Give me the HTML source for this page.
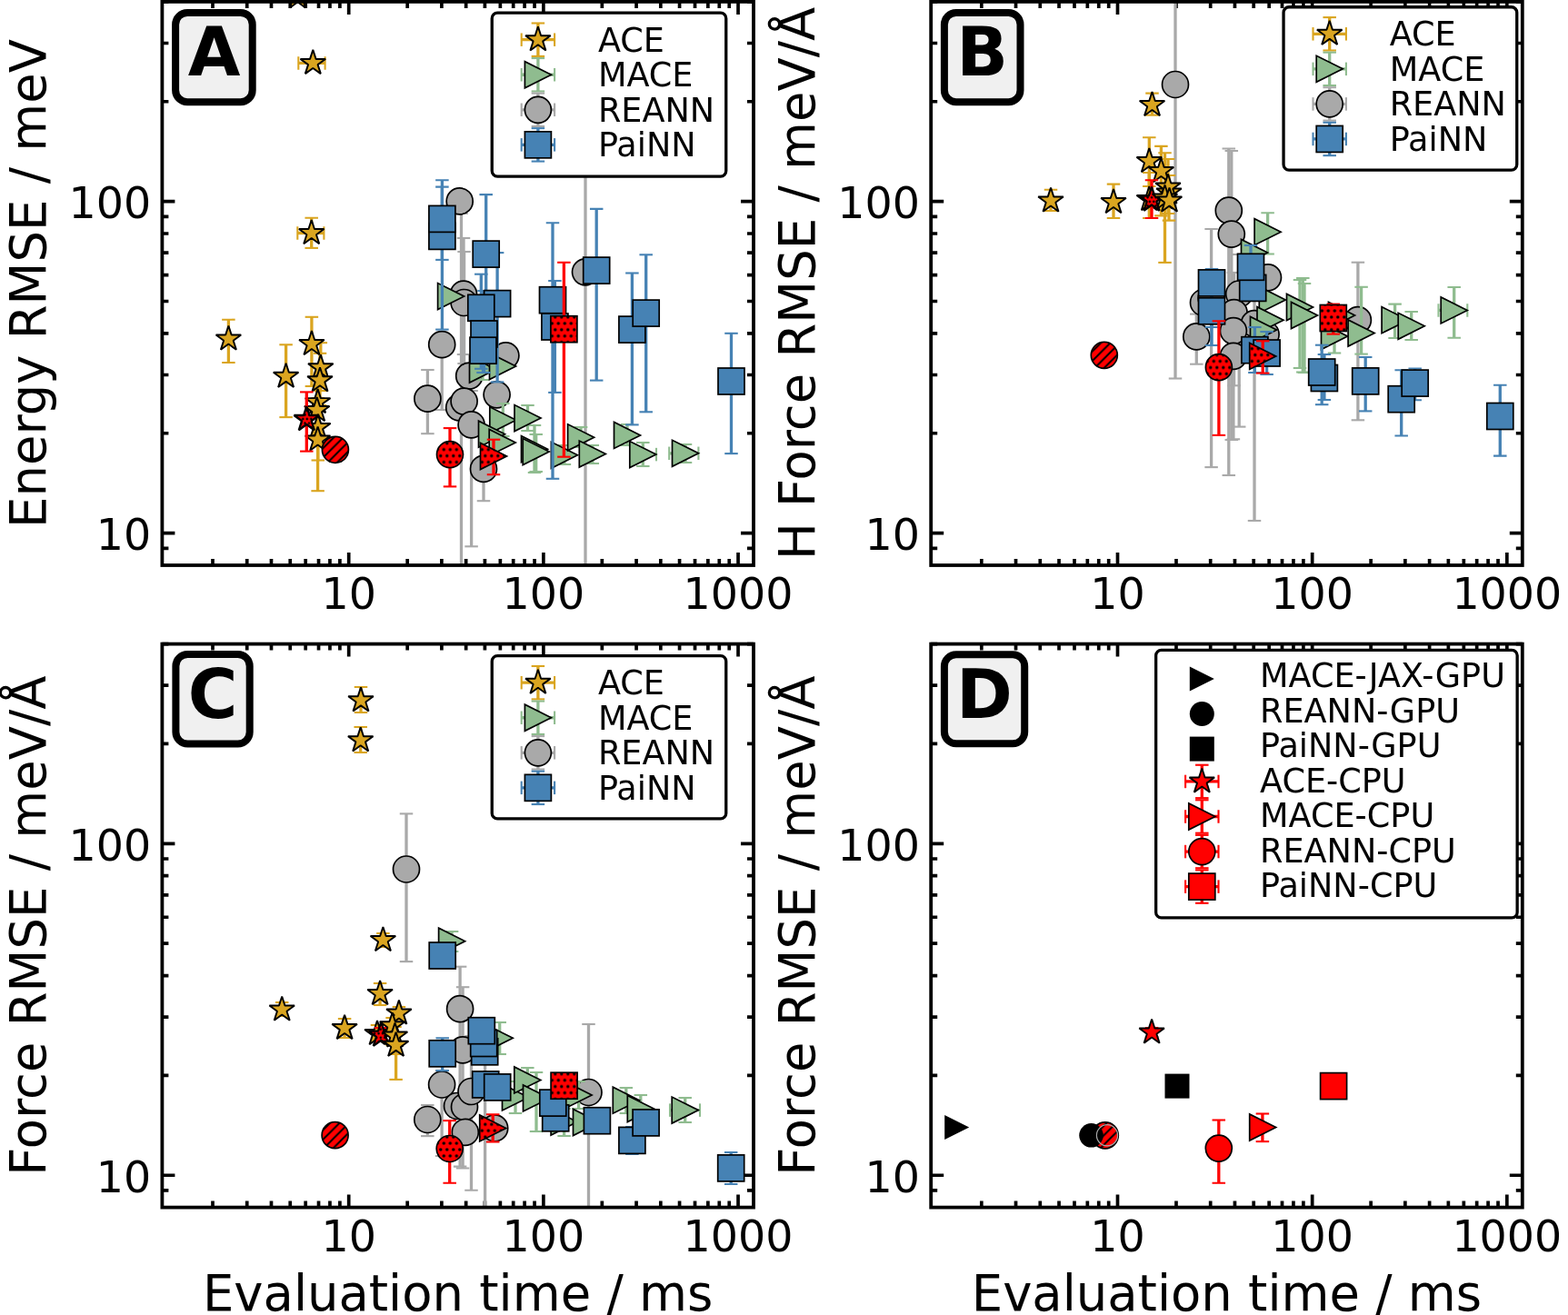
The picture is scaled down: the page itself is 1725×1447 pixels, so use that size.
<!DOCTYPE html>
<html><head><meta charset="utf-8"><title>Evaluation time vs RMSE</title>
<style>html,body{margin:0;padding:0;background:#fff;}svg{display:block;}text{font-family:'DejaVu Sans', 'Liberation Sans', sans-serif;fill:#000;}</style>
</head><body>
<svg width="1725" height="1447" viewBox="0 0 1725 1447">
<defs>
<pattern id="dots" patternUnits="userSpaceOnUse" x="5.3" y="8.86" width="7" height="13.88"><circle cx="0" cy="0" r="1.75" fill="#000"/><circle cx="7" cy="0" r="1.75" fill="#000"/><circle cx="0" cy="13.88" r="1.75" fill="#000"/><circle cx="7" cy="13.88" r="1.75" fill="#000"/><circle cx="3.5" cy="6.94" r="1.75" fill="#000"/></pattern>
<pattern id="dots2" patternUnits="userSpaceOnUse" x="0.3" y="1.1" width="4.5" height="9.2"><circle cx="0" cy="0" r="1.3" fill="#000"/><circle cx="4.5" cy="0" r="1.3" fill="#000"/><circle cx="0" cy="9.2" r="1.3" fill="#000"/><circle cx="4.5" cy="9.2" r="1.3" fill="#000"/><circle cx="2.25" cy="4.6" r="1.3" fill="#000"/></pattern>
<pattern id="diag" patternUnits="userSpaceOnUse" x="0" y="4.56" width="10.42" height="10.42"><path d="M-2.6 2.6L2.6 -2.6M0 10.42L10.42 0M7.82 13.02L13.02 7.82" stroke="#000" stroke-width="2"/></pattern>
<clipPath id="clipA"><rect x="178.4" y="1.9" width="650.6" height="620.1"/></clipPath>
<clipPath id="clipB"><rect x="1024.2" y="1.9" width="650.6" height="620.1"/></clipPath>
<clipPath id="clipC"><rect x="178.4" y="708.6" width="650.6" height="620"/></clipPath>
<clipPath id="clipD"><rect x="1024.2" y="708.6" width="650.6" height="620"/></clipPath>
</defs>
<rect x="0" y="0" width="1725" height="1447" fill="#fff"/>
<path d="M383.7 622L383.7 608 M383.7 1.9L383.7 15.9 M597.87 622L597.87 608 M597.87 1.9L597.87 15.9 M812.04 622L812.04 608 M812.04 1.9L812.04 15.9 M234.01 622L234.01 615 M234.01 1.9L234.01 8.9 M271.72 622L271.72 615 M271.72 1.9L271.72 8.9 M298.48 622L298.48 615 M298.48 1.9L298.48 8.9 M319.23 622L319.23 615 M319.23 1.9L319.23 8.9 M336.19 622L336.19 615 M336.19 1.9L336.19 8.9 M350.53 622L350.53 615 M350.53 1.9L350.53 8.9 M362.95 622L362.95 615 M362.95 1.9L362.95 8.9 M373.9 622L373.9 615 M373.9 1.9L373.9 8.9 M448.18 622L448.18 615 M448.18 1.9L448.18 8.9 M485.89 622L485.89 615 M485.89 1.9L485.89 8.9 M512.65 622L512.65 615 M512.65 1.9L512.65 8.9 M533.4 622L533.4 615 M533.4 1.9L533.4 8.9 M550.36 622L550.36 615 M550.36 1.9L550.36 8.9 M564.7 622L564.7 615 M564.7 1.9L564.7 8.9 M577.12 622L577.12 615 M577.12 1.9L577.12 8.9 M588.07 622L588.07 615 M588.07 1.9L588.07 8.9 M662.34 622L662.34 615 M662.34 1.9L662.34 8.9 M700.06 622L700.06 615 M700.06 1.9L700.06 8.9 M726.82 622L726.82 615 M726.82 1.9L726.82 8.9 M747.57 622L747.57 615 M747.57 1.9L747.57 8.9 M764.53 622L764.53 615 M764.53 1.9L764.53 8.9 M778.87 622L778.87 615 M778.87 1.9L778.87 8.9 M791.29 622L791.29 615 M791.29 1.9L791.29 8.9 M802.24 622L802.24 615 M802.24 1.9L802.24 8.9 M178.4 586.63L192.4 586.63 M829 586.63L815 586.63 M178.4 221.64L192.4 221.64 M829 221.64L815 221.64 M178.4 603.33L185.4 603.33 M829 603.33L822 603.33 M178.4 476.76L185.4 476.76 M829 476.76L822 476.76 M178.4 412.49L185.4 412.49 M829 412.49L822 412.49 M178.4 366.89L185.4 366.89 M829 366.89L822 366.89 M178.4 331.52L185.4 331.52 M829 331.52L822 331.52 M178.4 302.62L185.4 302.62 M829 302.62L822 302.62 M178.4 278.18L185.4 278.18 M829 278.18L822 278.18 M178.4 257.01L185.4 257.01 M829 257.01L822 257.01 M178.4 238.34L185.4 238.34 M829 238.34L822 238.34 M178.4 111.77L185.4 111.77 M829 111.77L822 111.77 M178.4 47.5L185.4 47.5 M829 47.5L822 47.5 M178.4 1.9L185.4 1.9 M829 1.9L822 1.9" stroke="#000" stroke-width="3.7" fill="none"/>
<g clip-path="url(#clipA)">
<line x1="507.5" y1="235" x2="507.5" y2="640" stroke="#A9A9A9" stroke-width="3.3"/>
<line x1="500.25" y1="235" x2="514.75" y2="235" stroke="#A9A9A9" stroke-width="2.1"/>
<line x1="500.25" y1="640" x2="514.75" y2="640" stroke="#A9A9A9" stroke-width="2.1"/>
<line x1="644" y1="100" x2="644" y2="640" stroke="#A9A9A9" stroke-width="3.3"/>
<line x1="636.75" y1="100" x2="651.25" y2="100" stroke="#A9A9A9" stroke-width="2.1"/>
<line x1="636.75" y1="640" x2="651.25" y2="640" stroke="#A9A9A9" stroke-width="2.1"/>
<line x1="510" y1="262" x2="510" y2="390" stroke="#A9A9A9" stroke-width="3.3"/>
<line x1="502.75" y1="262" x2="517.25" y2="262" stroke="#A9A9A9" stroke-width="2.1"/>
<line x1="502.75" y1="390" x2="517.25" y2="390" stroke="#A9A9A9" stroke-width="2.1"/>
<line x1="510.6" y1="277" x2="510.6" y2="400" stroke="#A9A9A9" stroke-width="3.3"/>
<line x1="503.35" y1="277" x2="517.85" y2="277" stroke="#A9A9A9" stroke-width="2.1"/>
<line x1="503.35" y1="400" x2="517.85" y2="400" stroke="#A9A9A9" stroke-width="2.1"/>
<line x1="486.2" y1="379.2" x2="486.2" y2="451" stroke="#A9A9A9" stroke-width="3.3"/>
<line x1="478.95" y1="379.2" x2="493.45" y2="379.2" stroke="#A9A9A9" stroke-width="2.1"/>
<line x1="478.95" y1="451" x2="493.45" y2="451" stroke="#A9A9A9" stroke-width="2.1"/>
<line x1="470.4" y1="407" x2="470.4" y2="477.2" stroke="#A9A9A9" stroke-width="3.3"/>
<line x1="463.15" y1="407" x2="477.65" y2="407" stroke="#A9A9A9" stroke-width="2.1"/>
<line x1="463.15" y1="477.2" x2="477.65" y2="477.2" stroke="#A9A9A9" stroke-width="2.1"/>
<line x1="518.6" y1="430" x2="518.6" y2="601.3" stroke="#A9A9A9" stroke-width="3.3"/>
<line x1="511.35" y1="430" x2="525.85" y2="430" stroke="#A9A9A9" stroke-width="2.1"/>
<line x1="511.35" y1="601.3" x2="525.85" y2="601.3" stroke="#A9A9A9" stroke-width="2.1"/>
<line x1="532" y1="480" x2="532" y2="551.2" stroke="#A9A9A9" stroke-width="3.3"/>
<line x1="524.75" y1="480" x2="539.25" y2="480" stroke="#A9A9A9" stroke-width="2.1"/>
<line x1="524.75" y1="551.2" x2="539.25" y2="551.2" stroke="#A9A9A9" stroke-width="2.1"/>
<circle cx="505.7" cy="221.4" r="14.5" fill="#A9A9A9" stroke="#000" stroke-width="1.7"/>
<circle cx="644" cy="299.3" r="14.5" fill="#A9A9A9" stroke="#000" stroke-width="1.7"/>
<circle cx="510" cy="323.7" r="14.5" fill="#A9A9A9" stroke="#000" stroke-width="1.7"/>
<circle cx="510.6" cy="333" r="14.5" fill="#A9A9A9" stroke="#000" stroke-width="1.7"/>
<circle cx="486.2" cy="379.2" r="14.5" fill="#A9A9A9" stroke="#000" stroke-width="1.7"/>
<circle cx="556.4" cy="391.3" r="14.5" fill="#A9A9A9" stroke="#000" stroke-width="1.7"/>
<circle cx="516.2" cy="413.7" r="14.5" fill="#A9A9A9" stroke="#000" stroke-width="1.7"/>
<circle cx="546.6" cy="434.3" r="14.5" fill="#A9A9A9" stroke="#000" stroke-width="1.7"/>
<circle cx="470.4" cy="438.7" r="14.5" fill="#A9A9A9" stroke="#000" stroke-width="1.7"/>
<circle cx="505.2" cy="448.4" r="14.5" fill="#A9A9A9" stroke="#000" stroke-width="1.7"/>
<circle cx="510.6" cy="441.6" r="14.5" fill="#A9A9A9" stroke="#000" stroke-width="1.7"/>
<circle cx="518.6" cy="467.4" r="14.5" fill="#A9A9A9" stroke="#000" stroke-width="1.7"/>
<circle cx="532" cy="515.9" r="14.5" fill="#A9A9A9" stroke="#000" stroke-width="1.7"/>
<line x1="531" y1="396" x2="531" y2="418" stroke="#8FBC8F" stroke-width="3.3"/>
<line x1="523.75" y1="396" x2="538.25" y2="396" stroke="#8FBC8F" stroke-width="2.1"/>
<line x1="523.75" y1="418" x2="538.25" y2="418" stroke="#8FBC8F" stroke-width="2.1"/>
<line x1="553.3" y1="444" x2="553.3" y2="480" stroke="#8FBC8F" stroke-width="3.3"/>
<line x1="546.05" y1="444" x2="560.55" y2="444" stroke="#8FBC8F" stroke-width="2.1"/>
<line x1="546.05" y1="480" x2="560.55" y2="480" stroke="#8FBC8F" stroke-width="2.1"/>
<line x1="580.5" y1="446" x2="580.5" y2="474" stroke="#8FBC8F" stroke-width="3.3"/>
<line x1="573.25" y1="446" x2="587.75" y2="446" stroke="#8FBC8F" stroke-width="2.1"/>
<line x1="573.25" y1="474" x2="587.75" y2="474" stroke="#8FBC8F" stroke-width="2.1"/>
<line x1="588" y1="468" x2="588" y2="520" stroke="#8FBC8F" stroke-width="3.3"/>
<line x1="580.75" y1="468" x2="595.25" y2="468" stroke="#8FBC8F" stroke-width="2.1"/>
<line x1="580.75" y1="520" x2="595.25" y2="520" stroke="#8FBC8F" stroke-width="2.1"/>
<line x1="589.7" y1="478" x2="589.7" y2="519" stroke="#8FBC8F" stroke-width="3.3"/>
<line x1="582.45" y1="478" x2="596.95" y2="478" stroke="#8FBC8F" stroke-width="2.1"/>
<line x1="582.45" y1="519" x2="596.95" y2="519" stroke="#8FBC8F" stroke-width="2.1"/>
<line x1="620.9" y1="490" x2="620.9" y2="511" stroke="#8FBC8F" stroke-width="3.3"/>
<line x1="613.65" y1="490" x2="628.15" y2="490" stroke="#8FBC8F" stroke-width="2.1"/>
<line x1="613.65" y1="511" x2="628.15" y2="511" stroke="#8FBC8F" stroke-width="2.1"/>
<line x1="639.1" y1="470" x2="639.1" y2="492" stroke="#8FBC8F" stroke-width="3.3"/>
<line x1="631.85" y1="470" x2="646.35" y2="470" stroke="#8FBC8F" stroke-width="2.1"/>
<line x1="631.85" y1="492" x2="646.35" y2="492" stroke="#8FBC8F" stroke-width="2.1"/>
<line x1="651.8" y1="490" x2="651.8" y2="510" stroke="#8FBC8F" stroke-width="3.3"/>
<line x1="644.55" y1="490" x2="659.05" y2="490" stroke="#8FBC8F" stroke-width="2.1"/>
<line x1="644.55" y1="510" x2="659.05" y2="510" stroke="#8FBC8F" stroke-width="2.1"/>
<line x1="690" y1="467" x2="690" y2="490" stroke="#8FBC8F" stroke-width="3.3"/>
<line x1="682.75" y1="467" x2="697.25" y2="467" stroke="#8FBC8F" stroke-width="2.1"/>
<line x1="682.75" y1="490" x2="697.25" y2="490" stroke="#8FBC8F" stroke-width="2.1"/>
<line x1="707.3" y1="487" x2="707.3" y2="513" stroke="#8FBC8F" stroke-width="3.3"/>
<line x1="700.05" y1="487" x2="714.55" y2="487" stroke="#8FBC8F" stroke-width="2.1"/>
<line x1="700.05" y1="513" x2="714.55" y2="513" stroke="#8FBC8F" stroke-width="2.1"/>
<line x1="700" y1="500.1" x2="722" y2="500.1" stroke="#8FBC8F" stroke-width="3.3"/>
<line x1="700" y1="492.85" x2="700" y2="507.35" stroke="#8FBC8F" stroke-width="2.1"/>
<line x1="722" y1="492.85" x2="722" y2="507.35" stroke="#8FBC8F" stroke-width="2.1"/>
<line x1="754" y1="489" x2="754" y2="509" stroke="#8FBC8F" stroke-width="3.3"/>
<line x1="746.75" y1="489" x2="761.25" y2="489" stroke="#8FBC8F" stroke-width="2.1"/>
<line x1="746.75" y1="509" x2="761.25" y2="509" stroke="#8FBC8F" stroke-width="2.1"/>
<line x1="736.2" y1="498.8" x2="768.4" y2="498.8" stroke="#8FBC8F" stroke-width="3.3"/>
<line x1="736.2" y1="491.55" x2="736.2" y2="506.05" stroke="#8FBC8F" stroke-width="2.1"/>
<line x1="768.4" y1="491.55" x2="768.4" y2="506.05" stroke="#8FBC8F" stroke-width="2.1"/>
<polygon points="510.6,326.1 481.6,311.6 481.6,340.6" fill="#8FBC8F" stroke="#000" stroke-width="1.7" stroke-linejoin="miter"/>
<polygon points="545.5,406.5 516.5,392 516.5,421" fill="#8FBC8F" stroke="#000" stroke-width="1.7" stroke-linejoin="miter"/>
<polygon points="567.5,403 538.5,388.5 538.5,417.5" fill="#8FBC8F" stroke="#000" stroke-width="1.7" stroke-linejoin="miter"/>
<polygon points="567.8,462.3 538.8,447.8 538.8,476.8" fill="#8FBC8F" stroke="#000" stroke-width="1.7" stroke-linejoin="miter"/>
<polygon points="595,460.1 566,445.6 566,474.6" fill="#8FBC8F" stroke="#000" stroke-width="1.7" stroke-linejoin="miter"/>
<polygon points="555.5,477.7 526.5,463.2 526.5,492.2" fill="#8FBC8F" stroke="#000" stroke-width="1.7" stroke-linejoin="miter"/>
<polygon points="567.2,486.9 538.2,472.4 538.2,501.4" fill="#8FBC8F" stroke="#000" stroke-width="1.7" stroke-linejoin="miter"/>
<polygon points="602.5,494.2 573.5,479.7 573.5,508.7" fill="#8FBC8F" stroke="#000" stroke-width="1.7" stroke-linejoin="miter"/>
<polygon points="604.2,497.1 575.2,482.6 575.2,511.6" fill="#8FBC8F" stroke="#000" stroke-width="1.7" stroke-linejoin="miter"/>
<polygon points="635.4,500.8 606.4,486.3 606.4,515.3" fill="#8FBC8F" stroke="#000" stroke-width="1.7" stroke-linejoin="miter"/>
<polygon points="653.6,481.3 624.6,466.8 624.6,495.8" fill="#8FBC8F" stroke="#000" stroke-width="1.7" stroke-linejoin="miter"/>
<polygon points="666.3,499.6 637.3,485.1 637.3,514.1" fill="#8FBC8F" stroke="#000" stroke-width="1.7" stroke-linejoin="miter"/>
<polygon points="704.5,478.9 675.5,464.4 675.5,493.4" fill="#8FBC8F" stroke="#000" stroke-width="1.7" stroke-linejoin="miter"/>
<polygon points="721.8,500.1 692.8,485.6 692.8,514.6" fill="#8FBC8F" stroke="#000" stroke-width="1.7" stroke-linejoin="miter"/>
<polygon points="768.5,498.8 739.5,484.3 739.5,513.3" fill="#8FBC8F" stroke="#000" stroke-width="1.7" stroke-linejoin="miter"/>
<line x1="328.3" y1="69.4" x2="357.6" y2="69.4" stroke="#DAA520" stroke-width="3.3"/>
<line x1="328.3" y1="62.15" x2="328.3" y2="76.65" stroke="#DAA520" stroke-width="2.1"/>
<line x1="357.6" y1="62.15" x2="357.6" y2="76.65" stroke="#DAA520" stroke-width="2.1"/>
<line x1="342.7" y1="239.8" x2="342.7" y2="272.9" stroke="#DAA520" stroke-width="3.3"/>
<line x1="335.45" y1="239.8" x2="349.95" y2="239.8" stroke="#DAA520" stroke-width="2.1"/>
<line x1="335.45" y1="272.9" x2="349.95" y2="272.9" stroke="#DAA520" stroke-width="2.1"/>
<line x1="327.3" y1="256.5" x2="356.4" y2="256.5" stroke="#DAA520" stroke-width="3.3"/>
<line x1="327.3" y1="249.25" x2="327.3" y2="263.75" stroke="#DAA520" stroke-width="2.1"/>
<line x1="356.4" y1="249.25" x2="356.4" y2="263.75" stroke="#DAA520" stroke-width="2.1"/>
<line x1="251.4" y1="351.7" x2="251.4" y2="399" stroke="#DAA520" stroke-width="3.3"/>
<line x1="244.15" y1="351.7" x2="258.65" y2="351.7" stroke="#DAA520" stroke-width="2.1"/>
<line x1="244.15" y1="399" x2="258.65" y2="399" stroke="#DAA520" stroke-width="2.1"/>
<line x1="314.6" y1="379.3" x2="314.6" y2="459.1" stroke="#DAA520" stroke-width="3.3"/>
<line x1="307.35" y1="379.3" x2="321.85" y2="379.3" stroke="#DAA520" stroke-width="2.1"/>
<line x1="307.35" y1="459.1" x2="321.85" y2="459.1" stroke="#DAA520" stroke-width="2.1"/>
<line x1="342.9" y1="348.8" x2="342.9" y2="425" stroke="#DAA520" stroke-width="3.3"/>
<line x1="335.65" y1="348.8" x2="350.15" y2="348.8" stroke="#DAA520" stroke-width="2.1"/>
<line x1="335.65" y1="425" x2="350.15" y2="425" stroke="#DAA520" stroke-width="2.1"/>
<line x1="352.8" y1="377.2" x2="352.8" y2="430" stroke="#DAA520" stroke-width="3.3"/>
<line x1="345.55" y1="377.2" x2="360.05" y2="377.2" stroke="#DAA520" stroke-width="2.1"/>
<line x1="345.55" y1="430" x2="360.05" y2="430" stroke="#DAA520" stroke-width="2.1"/>
<line x1="352" y1="388.8" x2="352" y2="446" stroke="#DAA520" stroke-width="3.3"/>
<line x1="344.75" y1="388.8" x2="359.25" y2="388.8" stroke="#DAA520" stroke-width="2.1"/>
<line x1="344.75" y1="446" x2="359.25" y2="446" stroke="#DAA520" stroke-width="2.1"/>
<line x1="349.6" y1="415" x2="349.6" y2="470" stroke="#DAA520" stroke-width="3.3"/>
<line x1="342.35" y1="415" x2="356.85" y2="415" stroke="#DAA520" stroke-width="2.1"/>
<line x1="342.35" y1="470" x2="356.85" y2="470" stroke="#DAA520" stroke-width="2.1"/>
<line x1="348.7" y1="423.8" x2="348.7" y2="480" stroke="#DAA520" stroke-width="3.3"/>
<line x1="341.45" y1="423.8" x2="355.95" y2="423.8" stroke="#DAA520" stroke-width="2.1"/>
<line x1="341.45" y1="480" x2="355.95" y2="480" stroke="#DAA520" stroke-width="2.1"/>
<line x1="349.8" y1="438" x2="349.8" y2="506.5" stroke="#DAA520" stroke-width="3.3"/>
<line x1="342.55" y1="438" x2="357.05" y2="438" stroke="#DAA520" stroke-width="2.1"/>
<line x1="342.55" y1="506.5" x2="357.05" y2="506.5" stroke="#DAA520" stroke-width="2.1"/>
<line x1="349.6" y1="452.4" x2="349.6" y2="540.2" stroke="#DAA520" stroke-width="3.3"/>
<line x1="342.35" y1="452.4" x2="356.85" y2="452.4" stroke="#DAA520" stroke-width="2.1"/>
<line x1="342.35" y1="540.2" x2="356.85" y2="540.2" stroke="#DAA520" stroke-width="2.1"/>
<polygon points="327.5,-17.8 324.24,-7.78 313.71,-7.78 322.23,-1.59 318.98,8.43 327.5,2.24 336.02,8.43 332.77,-1.59 341.29,-7.78 330.76,-7.78" fill="#DAA520" stroke="#000" stroke-width="1.95" stroke-linejoin="bevel"/>
<polygon points="344.3,54.9 341.04,64.92 330.51,64.92 339.03,71.11 335.78,81.13 344.3,74.94 352.82,81.13 349.57,71.11 358.09,64.92 347.56,64.92" fill="#DAA520" stroke="#000" stroke-width="1.95" stroke-linejoin="bevel"/>
<polygon points="342.7,242 339.44,252.02 328.91,252.02 337.43,258.21 334.18,268.23 342.7,262.04 351.22,268.23 347.97,258.21 356.49,252.02 345.96,252.02" fill="#DAA520" stroke="#000" stroke-width="1.95" stroke-linejoin="bevel"/>
<polygon points="251.4,358.5 248.14,368.52 237.61,368.52 246.13,374.71 242.88,384.73 251.4,378.54 259.92,384.73 256.67,374.71 265.19,368.52 254.66,368.52" fill="#DAA520" stroke="#000" stroke-width="1.95" stroke-linejoin="bevel"/>
<polygon points="314.6,399.8 311.34,409.82 300.81,409.82 309.33,416.01 306.08,426.03 314.6,419.84 323.12,426.03 319.87,416.01 328.39,409.82 317.86,409.82" fill="#DAA520" stroke="#000" stroke-width="1.95" stroke-linejoin="bevel"/>
<polygon points="342.9,364 339.64,374.02 329.11,374.02 337.63,380.21 334.38,390.23 342.9,384.04 351.42,390.23 348.17,380.21 356.69,374.02 346.16,374.02" fill="#DAA520" stroke="#000" stroke-width="1.95" stroke-linejoin="bevel"/>
<polygon points="352.8,390.2 349.54,400.22 339.01,400.22 347.53,406.41 344.28,416.43 352.8,410.24 361.32,416.43 358.07,406.41 366.59,400.22 356.06,400.22" fill="#DAA520" stroke="#000" stroke-width="1.95" stroke-linejoin="bevel"/>
<polygon points="352,404.2 348.74,414.22 338.21,414.22 346.73,420.41 343.48,430.43 352,424.24 360.52,430.43 357.27,420.41 365.79,414.22 355.26,414.22" fill="#DAA520" stroke="#000" stroke-width="1.95" stroke-linejoin="bevel"/>
<polygon points="349.6,428.1 346.34,438.12 335.81,438.12 344.33,444.31 341.08,454.33 349.6,448.14 358.12,454.33 354.87,444.31 363.39,438.12 352.86,438.12" fill="#DAA520" stroke="#000" stroke-width="1.95" stroke-linejoin="bevel"/>
<polygon points="348.7,437 345.44,447.02 334.91,447.02 343.43,453.21 340.18,463.23 348.7,457.04 357.22,463.23 353.97,453.21 362.49,447.02 351.96,447.02" fill="#DAA520" stroke="#000" stroke-width="1.95" stroke-linejoin="bevel"/>
<polygon points="349.8,455.9 346.54,465.92 336.01,465.92 344.53,472.11 341.28,482.13 349.8,475.94 358.32,482.13 355.07,472.11 363.59,465.92 353.06,465.92" fill="#DAA520" stroke="#000" stroke-width="1.95" stroke-linejoin="bevel"/>
<polygon points="349.6,469.5 346.34,479.52 335.81,479.52 344.33,485.71 341.08,495.73 349.6,489.54 358.12,495.73 354.87,485.71 363.39,479.52 352.86,479.52" fill="#DAA520" stroke="#000" stroke-width="1.95" stroke-linejoin="bevel"/>
<line x1="486.4" y1="205.6" x2="486.4" y2="362.6" stroke="#4682B4" stroke-width="3.3"/>
<line x1="479.15" y1="205.6" x2="493.65" y2="205.6" stroke="#4682B4" stroke-width="2.1"/>
<line x1="479.15" y1="362.6" x2="493.65" y2="362.6" stroke="#4682B4" stroke-width="2.1"/>
<line x1="486.4" y1="198.3" x2="486.4" y2="285.9" stroke="#4682B4" stroke-width="3.3"/>
<line x1="479.15" y1="198.3" x2="493.65" y2="198.3" stroke="#4682B4" stroke-width="2.1"/>
<line x1="479.15" y1="285.9" x2="493.65" y2="285.9" stroke="#4682B4" stroke-width="2.1"/>
<line x1="534.7" y1="214.1" x2="534.7" y2="400" stroke="#4682B4" stroke-width="3.3"/>
<line x1="527.45" y1="214.1" x2="541.95" y2="214.1" stroke="#4682B4" stroke-width="2.1"/>
<line x1="527.45" y1="400" x2="541.95" y2="400" stroke="#4682B4" stroke-width="2.1"/>
<line x1="547.1" y1="278.1" x2="547.1" y2="420.4" stroke="#4682B4" stroke-width="3.3"/>
<line x1="539.85" y1="278.1" x2="554.35" y2="278.1" stroke="#4682B4" stroke-width="2.1"/>
<line x1="539.85" y1="420.4" x2="554.35" y2="420.4" stroke="#4682B4" stroke-width="2.1"/>
<line x1="529.3" y1="301.7" x2="529.3" y2="405.8" stroke="#4682B4" stroke-width="3.3"/>
<line x1="522.05" y1="301.7" x2="536.55" y2="301.7" stroke="#4682B4" stroke-width="2.1"/>
<line x1="522.05" y1="405.8" x2="536.55" y2="405.8" stroke="#4682B4" stroke-width="2.1"/>
<line x1="532.5" y1="320" x2="532.5" y2="410" stroke="#4682B4" stroke-width="3.3"/>
<line x1="525.25" y1="320" x2="539.75" y2="320" stroke="#4682B4" stroke-width="2.1"/>
<line x1="525.25" y1="410" x2="539.75" y2="410" stroke="#4682B4" stroke-width="2.1"/>
<line x1="531.5" y1="340" x2="531.5" y2="410" stroke="#4682B4" stroke-width="3.3"/>
<line x1="524.25" y1="340" x2="538.75" y2="340" stroke="#4682B4" stroke-width="2.1"/>
<line x1="524.25" y1="410" x2="538.75" y2="410" stroke="#4682B4" stroke-width="2.1"/>
<line x1="608" y1="245.3" x2="608" y2="526.8" stroke="#4682B4" stroke-width="3.3"/>
<line x1="600.75" y1="245.3" x2="615.25" y2="245.3" stroke="#4682B4" stroke-width="2.1"/>
<line x1="600.75" y1="526.8" x2="615.25" y2="526.8" stroke="#4682B4" stroke-width="2.1"/>
<line x1="610.4" y1="309" x2="610.4" y2="431.9" stroke="#4682B4" stroke-width="3.3"/>
<line x1="603.15" y1="309" x2="617.65" y2="309" stroke="#4682B4" stroke-width="2.1"/>
<line x1="603.15" y1="431.9" x2="617.65" y2="431.9" stroke="#4682B4" stroke-width="2.1"/>
<line x1="656.2" y1="229.9" x2="656.2" y2="418.6" stroke="#4682B4" stroke-width="3.3"/>
<line x1="648.95" y1="229.9" x2="663.45" y2="229.9" stroke="#4682B4" stroke-width="2.1"/>
<line x1="648.95" y1="418.6" x2="663.45" y2="418.6" stroke="#4682B4" stroke-width="2.1"/>
<line x1="695.4" y1="300.5" x2="695.4" y2="467.4" stroke="#4682B4" stroke-width="3.3"/>
<line x1="688.15" y1="300.5" x2="702.65" y2="300.5" stroke="#4682B4" stroke-width="2.1"/>
<line x1="688.15" y1="467.4" x2="702.65" y2="467.4" stroke="#4682B4" stroke-width="2.1"/>
<line x1="710.7" y1="280.3" x2="710.7" y2="453.3" stroke="#4682B4" stroke-width="3.3"/>
<line x1="703.45" y1="280.3" x2="717.95" y2="280.3" stroke="#4682B4" stroke-width="2.1"/>
<line x1="703.45" y1="453.3" x2="717.95" y2="453.3" stroke="#4682B4" stroke-width="2.1"/>
<line x1="804.5" y1="366.8" x2="804.5" y2="499.1" stroke="#4682B4" stroke-width="3.3"/>
<line x1="797.25" y1="366.8" x2="811.75" y2="366.8" stroke="#4682B4" stroke-width="2.1"/>
<line x1="797.25" y1="499.1" x2="811.75" y2="499.1" stroke="#4682B4" stroke-width="2.1"/>
<rect x="471.9" y="245.4" width="29" height="29" fill="#4682B4" stroke="#000" stroke-width="1.7" stroke-linejoin="miter"/>
<rect x="471.9" y="226.4" width="29" height="29" fill="#4682B4" stroke="#000" stroke-width="1.7" stroke-linejoin="miter"/>
<rect x="520.2" y="265.1" width="29" height="29" fill="#4682B4" stroke="#000" stroke-width="1.7" stroke-linejoin="miter"/>
<rect x="532.6" y="319.6" width="29" height="29" fill="#4682B4" stroke="#000" stroke-width="1.7" stroke-linejoin="miter"/>
<rect x="514.8" y="324.3" width="29" height="29" fill="#4682B4" stroke="#000" stroke-width="1.7" stroke-linejoin="miter"/>
<rect x="518" y="353" width="29" height="29" fill="#4682B4" stroke="#000" stroke-width="1.7" stroke-linejoin="miter"/>
<rect x="517" y="371.2" width="29" height="29" fill="#4682B4" stroke="#000" stroke-width="1.7" stroke-linejoin="miter"/>
<rect x="593.5" y="315.7" width="29" height="29" fill="#4682B4" stroke="#000" stroke-width="1.7" stroke-linejoin="miter"/>
<rect x="595.9" y="345" width="29" height="29" fill="#4682B4" stroke="#000" stroke-width="1.7" stroke-linejoin="miter"/>
<rect x="641.7" y="283.1" width="29" height="29" fill="#4682B4" stroke="#000" stroke-width="1.7" stroke-linejoin="miter"/>
<rect x="680.9" y="348.1" width="29" height="29" fill="#4682B4" stroke="#000" stroke-width="1.7" stroke-linejoin="miter"/>
<rect x="696.2" y="330.1" width="29" height="29" fill="#4682B4" stroke="#000" stroke-width="1.7" stroke-linejoin="miter"/>
<rect x="790" y="405" width="29" height="29" fill="#4682B4" stroke="#000" stroke-width="1.7" stroke-linejoin="miter"/>
<line x1="337.3" y1="431.4" x2="337.3" y2="496.6" stroke="#FF0000" stroke-width="3.3"/>
<line x1="330.05" y1="431.4" x2="344.55" y2="431.4" stroke="#FF0000" stroke-width="2.1"/>
<line x1="330.05" y1="496.6" x2="344.55" y2="496.6" stroke="#FF0000" stroke-width="2.1"/>
<polygon points="337.3,447 334.04,457.02 323.51,457.02 332.03,463.21 328.78,473.23 337.3,467.04 345.82,473.23 342.57,463.21 351.09,457.02 340.56,457.02" fill="#FF0000" stroke="none" stroke-linejoin="bevel"/>
<polygon points="337.3,447 334.04,457.02 323.51,457.02 332.03,463.21 328.78,473.23 337.3,467.04 345.82,473.23 342.57,463.21 351.09,457.02 340.56,457.02" fill="url(#dots2)" stroke="none" stroke-linejoin="bevel"/>
<polygon points="337.3,447 334.04,457.02 323.51,457.02 332.03,463.21 328.78,473.23 337.3,467.04 345.82,473.23 342.57,463.21 351.09,457.02 340.56,457.02" fill="none" stroke="#000" stroke-width="2.3" stroke-linejoin="bevel"/>
<circle cx="368.9" cy="494.8" r="14.5" fill="#FF0000" stroke="none"/>
<circle cx="368.9" cy="494.8" r="14.5" fill="url(#diag)" stroke="none"/>
<circle cx="368.9" cy="494.8" r="14.5" fill="none" stroke="#000" stroke-width="1.7"/>
<line x1="495" y1="471.1" x2="495" y2="535.4" stroke="#FF0000" stroke-width="3.3"/>
<line x1="487.75" y1="471.1" x2="502.25" y2="471.1" stroke="#FF0000" stroke-width="2.1"/>
<line x1="487.75" y1="535.4" x2="502.25" y2="535.4" stroke="#FF0000" stroke-width="2.1"/>
<circle cx="495" cy="500.1" r="14.5" fill="#FF0000" stroke="none"/>
<circle cx="495" cy="500.1" r="14.5" fill="url(#dots)" stroke="none"/>
<circle cx="495" cy="500.1" r="14.5" fill="none" stroke="#000" stroke-width="1.7"/>
<line x1="543" y1="483.7" x2="543" y2="522.2" stroke="#FF0000" stroke-width="3.3"/>
<line x1="535.75" y1="483.7" x2="550.25" y2="483.7" stroke="#FF0000" stroke-width="2.1"/>
<line x1="535.75" y1="522.2" x2="550.25" y2="522.2" stroke="#FF0000" stroke-width="2.1"/>
<polygon points="557.5,502 528.5,487.5 528.5,516.5" fill="#FF0000" stroke="none" stroke-linejoin="miter"/>
<polygon points="557.5,502 528.5,487.5 528.5,516.5" fill="url(#dots)" stroke="none" stroke-linejoin="miter"/>
<polygon points="557.5,502 528.5,487.5 528.5,516.5" fill="none" stroke="#000" stroke-width="1.7" stroke-linejoin="miter"/>
<line x1="620.4" y1="288.8" x2="620.4" y2="502.7" stroke="#FF0000" stroke-width="3.3"/>
<line x1="613.15" y1="288.8" x2="627.65" y2="288.8" stroke="#FF0000" stroke-width="2.1"/>
<line x1="613.15" y1="502.7" x2="627.65" y2="502.7" stroke="#FF0000" stroke-width="2.1"/>
<rect x="605.9" y="347.7" width="29" height="29" fill="#FF0000" stroke="none" stroke-linejoin="miter"/>
<rect x="605.9" y="347.7" width="29" height="29" fill="url(#dots)" stroke="none" stroke-linejoin="miter"/>
<rect x="605.9" y="347.7" width="29" height="29" fill="none" stroke="#000" stroke-width="1.7" stroke-linejoin="miter"/>
</g>
<rect x="178.4" y="1.9" width="650.6" height="620.1" fill="none" stroke="#000" stroke-width="3.8" stroke-linejoin="miter"/>
<g font-size="47.5"><text x="383.7" y="670.3" text-anchor="middle">10</text>
<text x="597.87" y="670.3" text-anchor="middle">100</text>
<text x="812.04" y="670.3" text-anchor="middle">1000</text>
<text x="166.2" y="604.93" text-anchor="end">10</text>
<text x="166.2" y="239.94" text-anchor="end">100</text></g>
<path d="M1229.5 622L1229.5 608 M1229.5 1.9L1229.5 15.9 M1443.67 622L1443.67 608 M1443.67 1.9L1443.67 15.9 M1657.84 622L1657.84 608 M1657.84 1.9L1657.84 15.9 M1079.81 622L1079.81 615 M1079.81 1.9L1079.81 8.9 M1117.52 622L1117.52 615 M1117.52 1.9L1117.52 8.9 M1144.28 622L1144.28 615 M1144.28 1.9L1144.28 8.9 M1165.03 622L1165.03 615 M1165.03 1.9L1165.03 8.9 M1181.99 622L1181.99 615 M1181.99 1.9L1181.99 8.9 M1196.33 622L1196.33 615 M1196.33 1.9L1196.33 8.9 M1208.75 622L1208.75 615 M1208.75 1.9L1208.75 8.9 M1219.7 622L1219.7 615 M1219.7 1.9L1219.7 8.9 M1293.98 622L1293.98 615 M1293.98 1.9L1293.98 8.9 M1331.69 622L1331.69 615 M1331.69 1.9L1331.69 8.9 M1358.45 622L1358.45 615 M1358.45 1.9L1358.45 8.9 M1379.2 622L1379.2 615 M1379.2 1.9L1379.2 8.9 M1396.16 622L1396.16 615 M1396.16 1.9L1396.16 8.9 M1410.5 622L1410.5 615 M1410.5 1.9L1410.5 8.9 M1422.92 622L1422.92 615 M1422.92 1.9L1422.92 8.9 M1433.87 622L1433.87 615 M1433.87 1.9L1433.87 8.9 M1508.14 622L1508.14 615 M1508.14 1.9L1508.14 8.9 M1545.86 622L1545.86 615 M1545.86 1.9L1545.86 8.9 M1572.62 622L1572.62 615 M1572.62 1.9L1572.62 8.9 M1593.37 622L1593.37 615 M1593.37 1.9L1593.37 8.9 M1610.33 622L1610.33 615 M1610.33 1.9L1610.33 8.9 M1624.67 622L1624.67 615 M1624.67 1.9L1624.67 8.9 M1637.09 622L1637.09 615 M1637.09 1.9L1637.09 8.9 M1648.04 622L1648.04 615 M1648.04 1.9L1648.04 8.9 M1024.2 586.63L1038.2 586.63 M1674.8 586.63L1660.8 586.63 M1024.2 221.64L1038.2 221.64 M1674.8 221.64L1660.8 221.64 M1024.2 603.33L1031.2 603.33 M1674.8 603.33L1667.8 603.33 M1024.2 476.76L1031.2 476.76 M1674.8 476.76L1667.8 476.76 M1024.2 412.49L1031.2 412.49 M1674.8 412.49L1667.8 412.49 M1024.2 366.89L1031.2 366.89 M1674.8 366.89L1667.8 366.89 M1024.2 331.52L1031.2 331.52 M1674.8 331.52L1667.8 331.52 M1024.2 302.62L1031.2 302.62 M1674.8 302.62L1667.8 302.62 M1024.2 278.18L1031.2 278.18 M1674.8 278.18L1667.8 278.18 M1024.2 257.01L1031.2 257.01 M1674.8 257.01L1667.8 257.01 M1024.2 238.34L1031.2 238.34 M1674.8 238.34L1667.8 238.34 M1024.2 111.77L1031.2 111.77 M1674.8 111.77L1667.8 111.77 M1024.2 47.5L1031.2 47.5 M1674.8 47.5L1667.8 47.5 M1024.2 1.9L1031.2 1.9 M1674.8 1.9L1667.8 1.9" stroke="#000" stroke-width="3.7" fill="none"/>
<g clip-path="url(#clipB)">
<line x1="1293" y1="-10" x2="1293" y2="416.5" stroke="#A9A9A9" stroke-width="3.3"/>
<line x1="1285.75" y1="-10" x2="1300.25" y2="-10" stroke="#A9A9A9" stroke-width="2.1"/>
<line x1="1285.75" y1="416.5" x2="1300.25" y2="416.5" stroke="#A9A9A9" stroke-width="2.1"/>
<line x1="1351.8" y1="163.5" x2="1351.8" y2="523" stroke="#A9A9A9" stroke-width="3.3"/>
<line x1="1344.55" y1="163.5" x2="1359.05" y2="163.5" stroke="#A9A9A9" stroke-width="2.1"/>
<line x1="1344.55" y1="523" x2="1359.05" y2="523" stroke="#A9A9A9" stroke-width="2.1"/>
<line x1="1354.8" y1="166" x2="1354.8" y2="484" stroke="#A9A9A9" stroke-width="3.3"/>
<line x1="1347.55" y1="166" x2="1362.05" y2="166" stroke="#A9A9A9" stroke-width="2.1"/>
<line x1="1347.55" y1="484" x2="1362.05" y2="484" stroke="#A9A9A9" stroke-width="2.1"/>
<line x1="1332.6" y1="252" x2="1332.6" y2="514.1" stroke="#A9A9A9" stroke-width="3.3"/>
<line x1="1325.35" y1="252" x2="1339.85" y2="252" stroke="#A9A9A9" stroke-width="2.1"/>
<line x1="1325.35" y1="514.1" x2="1339.85" y2="514.1" stroke="#A9A9A9" stroke-width="2.1"/>
<line x1="1363.2" y1="280" x2="1363.2" y2="469.6" stroke="#A9A9A9" stroke-width="3.3"/>
<line x1="1355.95" y1="280" x2="1370.45" y2="280" stroke="#A9A9A9" stroke-width="2.1"/>
<line x1="1355.95" y1="469.6" x2="1370.45" y2="469.6" stroke="#A9A9A9" stroke-width="2.1"/>
<line x1="1357.6" y1="300" x2="1357.6" y2="424.3" stroke="#A9A9A9" stroke-width="3.3"/>
<line x1="1350.35" y1="300" x2="1364.85" y2="300" stroke="#A9A9A9" stroke-width="2.1"/>
<line x1="1350.35" y1="424.3" x2="1364.85" y2="424.3" stroke="#A9A9A9" stroke-width="2.1"/>
<line x1="1380" y1="330" x2="1380" y2="573" stroke="#A9A9A9" stroke-width="3.3"/>
<line x1="1372.75" y1="330" x2="1387.25" y2="330" stroke="#A9A9A9" stroke-width="2.1"/>
<line x1="1372.75" y1="573" x2="1387.25" y2="573" stroke="#A9A9A9" stroke-width="2.1"/>
<line x1="1316.3" y1="345.6" x2="1316.3" y2="400.7" stroke="#A9A9A9" stroke-width="3.3"/>
<line x1="1309.05" y1="345.6" x2="1323.55" y2="345.6" stroke="#A9A9A9" stroke-width="2.1"/>
<line x1="1309.05" y1="400.7" x2="1323.55" y2="400.7" stroke="#A9A9A9" stroke-width="2.1"/>
<line x1="1356.9" y1="300" x2="1356.9" y2="483.3" stroke="#A9A9A9" stroke-width="3.3"/>
<line x1="1349.65" y1="300" x2="1364.15" y2="300" stroke="#A9A9A9" stroke-width="2.1"/>
<line x1="1349.65" y1="483.3" x2="1364.15" y2="483.3" stroke="#A9A9A9" stroke-width="2.1"/>
<line x1="1493.9" y1="288.7" x2="1493.9" y2="462.3" stroke="#A9A9A9" stroke-width="3.3"/>
<line x1="1486.65" y1="288.7" x2="1501.15" y2="288.7" stroke="#A9A9A9" stroke-width="2.1"/>
<line x1="1486.65" y1="462.3" x2="1501.15" y2="462.3" stroke="#A9A9A9" stroke-width="2.1"/>
<circle cx="1293" cy="93" r="14.5" fill="#A9A9A9" stroke="#000" stroke-width="1.7"/>
<circle cx="1351.8" cy="231.7" r="14.5" fill="#A9A9A9" stroke="#000" stroke-width="1.7"/>
<circle cx="1354.8" cy="257.6" r="14.5" fill="#A9A9A9" stroke="#000" stroke-width="1.7"/>
<circle cx="1395" cy="305.3" r="14.5" fill="#A9A9A9" stroke="#000" stroke-width="1.7"/>
<circle cx="1324" cy="333" r="14.5" fill="#A9A9A9" stroke="#000" stroke-width="1.7"/>
<circle cx="1332.6" cy="328" r="14.5" fill="#A9A9A9" stroke="#000" stroke-width="1.7"/>
<circle cx="1363.2" cy="323.5" r="14.5" fill="#A9A9A9" stroke="#000" stroke-width="1.7"/>
<circle cx="1357.6" cy="344.2" r="14.5" fill="#A9A9A9" stroke="#000" stroke-width="1.7"/>
<circle cx="1380" cy="356.1" r="14.5" fill="#A9A9A9" stroke="#000" stroke-width="1.7"/>
<circle cx="1392.6" cy="368" r="14.5" fill="#A9A9A9" stroke="#000" stroke-width="1.7"/>
<circle cx="1316.3" cy="370.4" r="14.5" fill="#A9A9A9" stroke="#000" stroke-width="1.7"/>
<circle cx="1356.9" cy="364.1" r="14.5" fill="#A9A9A9" stroke="#000" stroke-width="1.7"/>
<circle cx="1356.9" cy="391.9" r="14.5" fill="#A9A9A9" stroke="#000" stroke-width="1.7"/>
<circle cx="1493.9" cy="352.2" r="14.5" fill="#A9A9A9" stroke="#000" stroke-width="1.7"/>
<line x1="1394.6" y1="234.3" x2="1394.6" y2="279.5" stroke="#8FBC8F" stroke-width="3.3"/>
<line x1="1387.35" y1="234.3" x2="1401.85" y2="234.3" stroke="#8FBC8F" stroke-width="2.1"/>
<line x1="1387.35" y1="279.5" x2="1401.85" y2="279.5" stroke="#8FBC8F" stroke-width="2.1"/>
<line x1="1430" y1="308" x2="1430" y2="405" stroke="#8FBC8F" stroke-width="3.3"/>
<line x1="1422.75" y1="308" x2="1437.25" y2="308" stroke="#8FBC8F" stroke-width="2.1"/>
<line x1="1422.75" y1="405" x2="1437.25" y2="405" stroke="#8FBC8F" stroke-width="2.1"/>
<line x1="1435" y1="312" x2="1435" y2="410" stroke="#8FBC8F" stroke-width="3.3"/>
<line x1="1427.75" y1="312" x2="1442.25" y2="312" stroke="#8FBC8F" stroke-width="2.1"/>
<line x1="1427.75" y1="410" x2="1442.25" y2="410" stroke="#8FBC8F" stroke-width="2.1"/>
<line x1="1433.3" y1="306" x2="1433.3" y2="409.5" stroke="#8FBC8F" stroke-width="3.3"/>
<line x1="1426.05" y1="306" x2="1440.55" y2="306" stroke="#8FBC8F" stroke-width="2.1"/>
<line x1="1426.05" y1="409.5" x2="1440.55" y2="409.5" stroke="#8FBC8F" stroke-width="2.1"/>
<line x1="1468" y1="350" x2="1468" y2="388.5" stroke="#8FBC8F" stroke-width="3.3"/>
<line x1="1460.75" y1="350" x2="1475.25" y2="350" stroke="#8FBC8F" stroke-width="2.1"/>
<line x1="1460.75" y1="388.5" x2="1475.25" y2="388.5" stroke="#8FBC8F" stroke-width="2.1"/>
<line x1="1497.6" y1="315.8" x2="1497.6" y2="389.6" stroke="#8FBC8F" stroke-width="3.3"/>
<line x1="1490.35" y1="315.8" x2="1504.85" y2="315.8" stroke="#8FBC8F" stroke-width="2.1"/>
<line x1="1490.35" y1="389.6" x2="1504.85" y2="389.6" stroke="#8FBC8F" stroke-width="2.1"/>
<line x1="1534.6" y1="334.6" x2="1534.6" y2="372" stroke="#8FBC8F" stroke-width="3.3"/>
<line x1="1527.35" y1="334.6" x2="1541.85" y2="334.6" stroke="#8FBC8F" stroke-width="2.1"/>
<line x1="1527.35" y1="372" x2="1541.85" y2="372" stroke="#8FBC8F" stroke-width="2.1"/>
<line x1="1552.7" y1="343" x2="1552.7" y2="374" stroke="#8FBC8F" stroke-width="3.3"/>
<line x1="1545.45" y1="343" x2="1559.95" y2="343" stroke="#8FBC8F" stroke-width="2.1"/>
<line x1="1545.45" y1="374" x2="1559.95" y2="374" stroke="#8FBC8F" stroke-width="2.1"/>
<line x1="1599.7" y1="316" x2="1599.7" y2="371.8" stroke="#8FBC8F" stroke-width="3.3"/>
<line x1="1592.45" y1="316" x2="1606.95" y2="316" stroke="#8FBC8F" stroke-width="2.1"/>
<line x1="1592.45" y1="371.8" x2="1606.95" y2="371.8" stroke="#8FBC8F" stroke-width="2.1"/>
<line x1="1582.5" y1="341.4" x2="1614.3" y2="341.4" stroke="#8FBC8F" stroke-width="3.3"/>
<line x1="1582.5" y1="334.15" x2="1582.5" y2="348.65" stroke="#8FBC8F" stroke-width="2.1"/>
<line x1="1614.3" y1="334.15" x2="1614.3" y2="348.65" stroke="#8FBC8F" stroke-width="2.1"/>
<polygon points="1409.1,255.2 1380.1,240.7 1380.1,269.7" fill="#8FBC8F" stroke="#000" stroke-width="1.7" stroke-linejoin="miter"/>
<polygon points="1394.5,278 1365.5,263.5 1365.5,292.5" fill="#8FBC8F" stroke="#000" stroke-width="1.7" stroke-linejoin="miter"/>
<polygon points="1414.3,329.9 1385.3,315.4 1385.3,344.4" fill="#8FBC8F" stroke="#000" stroke-width="1.7" stroke-linejoin="miter"/>
<polygon points="1444.5,338 1415.5,323.5 1415.5,352.5" fill="#8FBC8F" stroke="#000" stroke-width="1.7" stroke-linejoin="miter"/>
<polygon points="1449.5,347 1420.5,332.5 1420.5,361.5" fill="#8FBC8F" stroke="#000" stroke-width="1.7" stroke-linejoin="miter"/>
<polygon points="1412,352.2 1383,337.7 1383,366.7" fill="#8FBC8F" stroke="#000" stroke-width="1.7" stroke-linejoin="miter"/>
<polygon points="1404.5,363 1375.5,348.5 1375.5,377.5" fill="#8FBC8F" stroke="#000" stroke-width="1.7" stroke-linejoin="miter"/>
<polygon points="1490.5,347 1461.5,332.5 1461.5,361.5" fill="#8FBC8F" stroke="#000" stroke-width="1.7" stroke-linejoin="miter"/>
<polygon points="1482.5,370 1453.5,355.5 1453.5,384.5" fill="#8FBC8F" stroke="#000" stroke-width="1.7" stroke-linejoin="miter"/>
<polygon points="1512.1,366.5 1483.1,352 1483.1,381" fill="#8FBC8F" stroke="#000" stroke-width="1.7" stroke-linejoin="miter"/>
<polygon points="1549.1,352.2 1520.1,337.7 1520.1,366.7" fill="#8FBC8F" stroke="#000" stroke-width="1.7" stroke-linejoin="miter"/>
<polygon points="1567.2,358.8 1538.2,344.3 1538.2,373.3" fill="#8FBC8F" stroke="#000" stroke-width="1.7" stroke-linejoin="miter"/>
<polygon points="1614.2,341.4 1585.2,326.9 1585.2,355.9" fill="#8FBC8F" stroke="#000" stroke-width="1.7" stroke-linejoin="miter"/>
<line x1="1156" y1="208.7" x2="1156" y2="232" stroke="#DAA520" stroke-width="3.3"/>
<line x1="1148.75" y1="208.7" x2="1163.25" y2="208.7" stroke="#DAA520" stroke-width="2.1"/>
<line x1="1148.75" y1="232" x2="1163.25" y2="232" stroke="#DAA520" stroke-width="2.1"/>
<line x1="1225" y1="202.6" x2="1225" y2="240" stroke="#DAA520" stroke-width="3.3"/>
<line x1="1217.75" y1="202.6" x2="1232.25" y2="202.6" stroke="#DAA520" stroke-width="2.1"/>
<line x1="1217.75" y1="240" x2="1232.25" y2="240" stroke="#DAA520" stroke-width="2.1"/>
<line x1="1267.5" y1="102.6" x2="1267.5" y2="126.6" stroke="#DAA520" stroke-width="3.3"/>
<line x1="1260.25" y1="102.6" x2="1274.75" y2="102.6" stroke="#DAA520" stroke-width="2.1"/>
<line x1="1260.25" y1="126.6" x2="1274.75" y2="126.6" stroke="#DAA520" stroke-width="2.1"/>
<line x1="1264.3" y1="151.3" x2="1264.3" y2="205" stroke="#DAA520" stroke-width="3.3"/>
<line x1="1257.05" y1="151.3" x2="1271.55" y2="151.3" stroke="#DAA520" stroke-width="2.1"/>
<line x1="1257.05" y1="205" x2="1271.55" y2="205" stroke="#DAA520" stroke-width="2.1"/>
<line x1="1277.4" y1="160.9" x2="1277.4" y2="237.4" stroke="#DAA520" stroke-width="3.3"/>
<line x1="1270.15" y1="160.9" x2="1284.65" y2="160.9" stroke="#DAA520" stroke-width="2.1"/>
<line x1="1270.15" y1="237.4" x2="1284.65" y2="237.4" stroke="#DAA520" stroke-width="2.1"/>
<line x1="1264.3" y1="190" x2="1264.3" y2="240" stroke="#DAA520" stroke-width="3.3"/>
<line x1="1257.05" y1="190" x2="1271.55" y2="190" stroke="#DAA520" stroke-width="2.1"/>
<line x1="1257.05" y1="240" x2="1271.55" y2="240" stroke="#DAA520" stroke-width="2.1"/>
<line x1="1286" y1="193" x2="1286" y2="242.6" stroke="#DAA520" stroke-width="3.3"/>
<line x1="1278.75" y1="193" x2="1293.25" y2="193" stroke="#DAA520" stroke-width="2.1"/>
<line x1="1278.75" y1="242.6" x2="1293.25" y2="242.6" stroke="#DAA520" stroke-width="2.1"/>
<line x1="1285" y1="175" x2="1285" y2="235" stroke="#DAA520" stroke-width="3.3"/>
<line x1="1277.75" y1="175" x2="1292.25" y2="175" stroke="#DAA520" stroke-width="2.1"/>
<line x1="1277.75" y1="235" x2="1292.25" y2="235" stroke="#DAA520" stroke-width="2.1"/>
<line x1="1281.5" y1="168.3" x2="1281.5" y2="288.9" stroke="#DAA520" stroke-width="3.3"/>
<line x1="1274.25" y1="168.3" x2="1288.75" y2="168.3" stroke="#DAA520" stroke-width="2.1"/>
<line x1="1274.25" y1="288.9" x2="1288.75" y2="288.9" stroke="#DAA520" stroke-width="2.1"/>
<polygon points="1156,206.5 1152.74,216.52 1142.21,216.52 1150.73,222.71 1147.48,232.73 1156,226.54 1164.52,232.73 1161.27,222.71 1169.79,216.52 1159.26,216.52" fill="#DAA520" stroke="#000" stroke-width="1.95" stroke-linejoin="bevel"/>
<polygon points="1225,208 1221.74,218.02 1211.21,218.02 1219.73,224.21 1216.48,234.23 1225,228.04 1233.52,234.23 1230.27,224.21 1238.79,218.02 1228.26,218.02" fill="#DAA520" stroke="#000" stroke-width="1.95" stroke-linejoin="bevel"/>
<polygon points="1267.5,101 1264.24,111.02 1253.71,111.02 1262.23,117.21 1258.98,127.23 1267.5,121.04 1276.02,127.23 1272.77,117.21 1281.29,111.02 1270.76,111.02" fill="#DAA520" stroke="#000" stroke-width="1.95" stroke-linejoin="bevel"/>
<polygon points="1264.3,163 1261.04,173.02 1250.51,173.02 1259.03,179.21 1255.78,189.23 1264.3,183.04 1272.82,189.23 1269.57,179.21 1278.09,173.02 1267.56,173.02" fill="#DAA520" stroke="#000" stroke-width="1.95" stroke-linejoin="bevel"/>
<polygon points="1277.4,174 1274.14,184.02 1263.61,184.02 1272.13,190.21 1268.88,200.23 1277.4,194.04 1285.92,200.23 1282.67,190.21 1291.19,184.02 1280.66,184.02" fill="#DAA520" stroke="#000" stroke-width="1.95" stroke-linejoin="bevel"/>
<polygon points="1264.3,205 1261.04,215.02 1250.51,215.02 1259.03,221.21 1255.78,231.23 1264.3,225.04 1272.82,231.23 1269.57,221.21 1278.09,215.02 1267.56,215.02" fill="#DAA520" stroke="#000" stroke-width="1.95" stroke-linejoin="bevel"/>
<line x1="1267" y1="198.3" x2="1267" y2="240" stroke="#FF0000" stroke-width="3.3"/>
<line x1="1259.75" y1="198.3" x2="1274.25" y2="198.3" stroke="#FF0000" stroke-width="2.1"/>
<line x1="1259.75" y1="240" x2="1274.25" y2="240" stroke="#FF0000" stroke-width="2.1"/>
<polygon points="1267,205.5 1263.74,215.52 1253.21,215.52 1261.73,221.71 1258.48,231.73 1267,225.54 1275.52,231.73 1272.27,221.71 1280.79,215.52 1270.26,215.52" fill="#FF0000" stroke="none" stroke-linejoin="bevel"/>
<polygon points="1267,205.5 1263.74,215.52 1253.21,215.52 1261.73,221.71 1258.48,231.73 1267,225.54 1275.52,231.73 1272.27,221.71 1280.79,215.52 1270.26,215.52" fill="url(#dots2)" stroke="none" stroke-linejoin="bevel"/>
<polygon points="1267,205.5 1263.74,215.52 1253.21,215.52 1261.73,221.71 1258.48,231.73 1267,225.54 1275.52,231.73 1272.27,221.71 1280.79,215.52 1270.26,215.52" fill="none" stroke="#000" stroke-width="2.3" stroke-linejoin="bevel"/>
<polygon points="1286,197.5 1282.74,207.52 1272.21,207.52 1280.73,213.71 1277.48,223.73 1286,217.54 1294.52,223.73 1291.27,213.71 1299.79,207.52 1289.26,207.52" fill="#DAA520" stroke="#000" stroke-width="1.95" stroke-linejoin="bevel"/>
<polygon points="1285,191.5 1281.74,201.52 1271.21,201.52 1279.73,207.71 1276.48,217.73 1285,211.54 1293.52,217.73 1290.27,207.71 1298.79,201.52 1288.26,201.52" fill="#DAA520" stroke="#000" stroke-width="1.95" stroke-linejoin="bevel"/>
<polygon points="1281.5,203.5 1278.24,213.52 1267.71,213.52 1276.23,219.71 1272.98,229.73 1281.5,223.54 1290.02,229.73 1286.77,219.71 1295.29,213.52 1284.76,213.52" fill="#DAA520" stroke="#000" stroke-width="1.95" stroke-linejoin="bevel"/>
<polygon points="1286.5,206.5 1283.24,216.52 1272.71,216.52 1281.23,222.71 1277.98,232.73 1286.5,226.54 1295.02,232.73 1291.77,222.71 1300.29,216.52 1289.76,216.52" fill="#DAA520" stroke="#000" stroke-width="1.95" stroke-linejoin="bevel"/>
<line x1="1333" y1="300" x2="1333" y2="380" stroke="#4682B4" stroke-width="3.3"/>
<line x1="1325.75" y1="300" x2="1340.25" y2="300" stroke="#4682B4" stroke-width="2.1"/>
<line x1="1325.75" y1="380" x2="1340.25" y2="380" stroke="#4682B4" stroke-width="2.1"/>
<line x1="1333" y1="296" x2="1333" y2="360" stroke="#4682B4" stroke-width="3.3"/>
<line x1="1325.75" y1="296" x2="1340.25" y2="296" stroke="#4682B4" stroke-width="2.1"/>
<line x1="1325.75" y1="360" x2="1340.25" y2="360" stroke="#4682B4" stroke-width="2.1"/>
<line x1="1376" y1="270" x2="1376" y2="330" stroke="#4682B4" stroke-width="3.3"/>
<line x1="1368.75" y1="270" x2="1383.25" y2="270" stroke="#4682B4" stroke-width="2.1"/>
<line x1="1368.75" y1="330" x2="1383.25" y2="330" stroke="#4682B4" stroke-width="2.1"/>
<line x1="1380.4" y1="360" x2="1380.4" y2="410" stroke="#4682B4" stroke-width="3.3"/>
<line x1="1373.15" y1="360" x2="1387.65" y2="360" stroke="#4682B4" stroke-width="2.1"/>
<line x1="1373.15" y1="410" x2="1387.65" y2="410" stroke="#4682B4" stroke-width="2.1"/>
<line x1="1393.6" y1="365" x2="1393.6" y2="412" stroke="#4682B4" stroke-width="3.3"/>
<line x1="1386.35" y1="365" x2="1400.85" y2="365" stroke="#4682B4" stroke-width="2.1"/>
<line x1="1386.35" y1="412" x2="1400.85" y2="412" stroke="#4682B4" stroke-width="2.1"/>
<line x1="1456.9" y1="390" x2="1456.9" y2="440" stroke="#4682B4" stroke-width="3.3"/>
<line x1="1449.65" y1="390" x2="1464.15" y2="390" stroke="#4682B4" stroke-width="2.1"/>
<line x1="1449.65" y1="440" x2="1464.15" y2="440" stroke="#4682B4" stroke-width="2.1"/>
<line x1="1454.2" y1="379.7" x2="1454.2" y2="445.2" stroke="#4682B4" stroke-width="3.3"/>
<line x1="1446.95" y1="379.7" x2="1461.45" y2="379.7" stroke="#4682B4" stroke-width="2.1"/>
<line x1="1446.95" y1="445.2" x2="1461.45" y2="445.2" stroke="#4682B4" stroke-width="2.1"/>
<line x1="1502.2" y1="393" x2="1502.2" y2="452.4" stroke="#4682B4" stroke-width="3.3"/>
<line x1="1494.95" y1="393" x2="1509.45" y2="393" stroke="#4682B4" stroke-width="2.1"/>
<line x1="1494.95" y1="452.4" x2="1509.45" y2="452.4" stroke="#4682B4" stroke-width="2.1"/>
<line x1="1541.7" y1="407.3" x2="1541.7" y2="479.5" stroke="#4682B4" stroke-width="3.3"/>
<line x1="1534.45" y1="407.3" x2="1548.95" y2="407.3" stroke="#4682B4" stroke-width="2.1"/>
<line x1="1534.45" y1="479.5" x2="1548.95" y2="479.5" stroke="#4682B4" stroke-width="2.1"/>
<line x1="1556.7" y1="405.5" x2="1556.7" y2="440.3" stroke="#4682B4" stroke-width="3.3"/>
<line x1="1549.45" y1="405.5" x2="1563.95" y2="405.5" stroke="#4682B4" stroke-width="2.1"/>
<line x1="1549.45" y1="440.3" x2="1563.95" y2="440.3" stroke="#4682B4" stroke-width="2.1"/>
<line x1="1650.3" y1="423.8" x2="1650.3" y2="501.6" stroke="#4682B4" stroke-width="3.3"/>
<line x1="1643.05" y1="423.8" x2="1657.55" y2="423.8" stroke="#4682B4" stroke-width="2.1"/>
<line x1="1643.05" y1="501.6" x2="1657.55" y2="501.6" stroke="#4682B4" stroke-width="2.1"/>
<rect x="1318.5" y="327.8" width="29" height="29" fill="#4682B4" stroke="#000" stroke-width="1.7" stroke-linejoin="miter"/>
<rect x="1318.5" y="296.9" width="29" height="29" fill="#4682B4" stroke="#000" stroke-width="1.7" stroke-linejoin="miter"/>
<rect x="1363.7" y="302.4" width="29" height="29" fill="#4682B4" stroke="#000" stroke-width="1.7" stroke-linejoin="miter"/>
<rect x="1361.5" y="279.3" width="29" height="29" fill="#4682B4" stroke="#000" stroke-width="1.7" stroke-linejoin="miter"/>
<rect x="1365.9" y="370.7" width="29" height="29" fill="#4682B4" stroke="#000" stroke-width="1.7" stroke-linejoin="miter"/>
<rect x="1379.1" y="374" width="29" height="29" fill="#4682B4" stroke="#000" stroke-width="1.7" stroke-linejoin="miter"/>
<rect x="1442.4" y="401.5" width="29" height="29" fill="#4682B4" stroke="#000" stroke-width="1.7" stroke-linejoin="miter"/>
<rect x="1439.7" y="395" width="29" height="29" fill="#4682B4" stroke="#000" stroke-width="1.7" stroke-linejoin="miter"/>
<rect x="1487.7" y="404.9" width="29" height="29" fill="#4682B4" stroke="#000" stroke-width="1.7" stroke-linejoin="miter"/>
<rect x="1527.2" y="424.7" width="29" height="29" fill="#4682B4" stroke="#000" stroke-width="1.7" stroke-linejoin="miter"/>
<rect x="1542.2" y="407.1" width="29" height="29" fill="#4682B4" stroke="#000" stroke-width="1.7" stroke-linejoin="miter"/>
<rect x="1635.8" y="443.5" width="29" height="29" fill="#4682B4" stroke="#000" stroke-width="1.7" stroke-linejoin="miter"/>
<circle cx="1214.8" cy="390.8" r="14.5" fill="#FF0000" stroke="none"/>
<circle cx="1214.8" cy="390.8" r="14.5" fill="url(#diag)" stroke="none"/>
<circle cx="1214.8" cy="390.8" r="14.5" fill="none" stroke="#000" stroke-width="1.7"/>
<line x1="1340.9" y1="353.3" x2="1340.9" y2="478.9" stroke="#FF0000" stroke-width="3.3"/>
<line x1="1333.65" y1="353.3" x2="1348.15" y2="353.3" stroke="#FF0000" stroke-width="2.1"/>
<line x1="1333.65" y1="478.9" x2="1348.15" y2="478.9" stroke="#FF0000" stroke-width="2.1"/>
<circle cx="1340.9" cy="404.2" r="14.5" fill="#FF0000" stroke="none"/>
<circle cx="1340.9" cy="404.2" r="14.5" fill="url(#dots)" stroke="none"/>
<circle cx="1340.9" cy="404.2" r="14.5" fill="none" stroke="#000" stroke-width="1.7"/>
<line x1="1389.2" y1="375.3" x2="1389.2" y2="410.6" stroke="#FF0000" stroke-width="3.3"/>
<line x1="1381.95" y1="375.3" x2="1396.45" y2="375.3" stroke="#FF0000" stroke-width="2.1"/>
<line x1="1381.95" y1="410.6" x2="1396.45" y2="410.6" stroke="#FF0000" stroke-width="2.1"/>
<polygon points="1403.7,391.9 1374.7,377.4 1374.7,406.4" fill="#FF0000" stroke="none" stroke-linejoin="miter"/>
<polygon points="1403.7,391.9 1374.7,377.4 1374.7,406.4" fill="url(#dots)" stroke="none" stroke-linejoin="miter"/>
<polygon points="1403.7,391.9 1374.7,377.4 1374.7,406.4" fill="none" stroke="#000" stroke-width="1.7" stroke-linejoin="miter"/>
<line x1="1466.8" y1="334.6" x2="1466.8" y2="367.6" stroke="#FF0000" stroke-width="3.3"/>
<line x1="1459.55" y1="334.6" x2="1474.05" y2="334.6" stroke="#FF0000" stroke-width="2.1"/>
<line x1="1459.55" y1="367.6" x2="1474.05" y2="367.6" stroke="#FF0000" stroke-width="2.1"/>
<rect x="1452.3" y="335.5" width="29" height="29" fill="#FF0000" stroke="none" stroke-linejoin="miter"/>
<rect x="1452.3" y="335.5" width="29" height="29" fill="url(#dots)" stroke="none" stroke-linejoin="miter"/>
<rect x="1452.3" y="335.5" width="29" height="29" fill="none" stroke="#000" stroke-width="1.7" stroke-linejoin="miter"/>
</g>
<rect x="1024.2" y="1.9" width="650.6" height="620.1" fill="none" stroke="#000" stroke-width="3.8" stroke-linejoin="miter"/>
<g font-size="47.5"><text x="1229.5" y="670.3" text-anchor="middle">10</text>
<text x="1443.67" y="670.3" text-anchor="middle">100</text>
<text x="1657.84" y="670.3" text-anchor="middle">1000</text>
<text x="1012" y="604.93" text-anchor="end">10</text>
<text x="1012" y="239.94" text-anchor="end">100</text></g>
<path d="M383.7 1328.6L383.7 1314.6 M383.7 708.6L383.7 722.6 M597.87 1328.6L597.87 1314.6 M597.87 708.6L597.87 722.6 M812.04 1328.6L812.04 1314.6 M812.04 708.6L812.04 722.6 M234.01 1328.6L234.01 1321.6 M234.01 708.6L234.01 715.6 M271.72 1328.6L271.72 1321.6 M271.72 708.6L271.72 715.6 M298.48 1328.6L298.48 1321.6 M298.48 708.6L298.48 715.6 M319.23 1328.6L319.23 1321.6 M319.23 708.6L319.23 715.6 M336.19 1328.6L336.19 1321.6 M336.19 708.6L336.19 715.6 M350.53 1328.6L350.53 1321.6 M350.53 708.6L350.53 715.6 M362.95 1328.6L362.95 1321.6 M362.95 708.6L362.95 715.6 M373.9 1328.6L373.9 1321.6 M373.9 708.6L373.9 715.6 M448.18 1328.6L448.18 1321.6 M448.18 708.6L448.18 715.6 M485.89 1328.6L485.89 1321.6 M485.89 708.6L485.89 715.6 M512.65 1328.6L512.65 1321.6 M512.65 708.6L512.65 715.6 M533.4 1328.6L533.4 1321.6 M533.4 708.6L533.4 715.6 M550.36 1328.6L550.36 1321.6 M550.36 708.6L550.36 715.6 M564.7 1328.6L564.7 1321.6 M564.7 708.6L564.7 715.6 M577.12 1328.6L577.12 1321.6 M577.12 708.6L577.12 715.6 M588.07 1328.6L588.07 1321.6 M588.07 708.6L588.07 715.6 M662.34 1328.6L662.34 1321.6 M662.34 708.6L662.34 715.6 M700.06 1328.6L700.06 1321.6 M700.06 708.6L700.06 715.6 M726.82 1328.6L726.82 1321.6 M726.82 708.6L726.82 715.6 M747.57 1328.6L747.57 1321.6 M747.57 708.6L747.57 715.6 M764.53 1328.6L764.53 1321.6 M764.53 708.6L764.53 715.6 M778.87 1328.6L778.87 1321.6 M778.87 708.6L778.87 715.6 M791.29 1328.6L791.29 1321.6 M791.29 708.6L791.29 715.6 M802.24 1328.6L802.24 1321.6 M802.24 708.6L802.24 715.6 M178.4 1293.23L192.4 1293.23 M829 1293.23L815 1293.23 M178.4 928.31L192.4 928.31 M829 928.31L815 928.31 M178.4 1309.93L185.4 1309.93 M829 1309.93L822 1309.93 M178.4 1183.38L185.4 1183.38 M829 1183.38L822 1183.38 M178.4 1119.12L185.4 1119.12 M829 1119.12L822 1119.12 M178.4 1073.53L185.4 1073.53 M829 1073.53L822 1073.53 M178.4 1038.16L185.4 1038.16 M829 1038.16L822 1038.16 M178.4 1009.27L185.4 1009.27 M829 1009.27L822 1009.27 M178.4 984.84L185.4 984.84 M829 984.84L822 984.84 M178.4 963.67L185.4 963.67 M829 963.67L822 963.67 M178.4 945.01L185.4 945.01 M829 945.01L822 945.01 M178.4 818.45L185.4 818.45 M829 818.45L822 818.45 M178.4 754.19L185.4 754.19 M829 754.19L822 754.19 M178.4 708.6L185.4 708.6 M829 708.6L822 708.6" stroke="#000" stroke-width="3.7" fill="none"/>
<g clip-path="url(#clipC)">
<line x1="447" y1="895.4" x2="447" y2="1058.1" stroke="#A9A9A9" stroke-width="3.3"/>
<line x1="439.75" y1="895.4" x2="454.25" y2="895.4" stroke="#A9A9A9" stroke-width="2.1"/>
<line x1="439.75" y1="1058.1" x2="454.25" y2="1058.1" stroke="#A9A9A9" stroke-width="2.1"/>
<line x1="533.6" y1="1150" x2="533.6" y2="1340" stroke="#A9A9A9" stroke-width="3.3"/>
<line x1="526.35" y1="1150" x2="540.85" y2="1150" stroke="#A9A9A9" stroke-width="2.1"/>
<line x1="526.35" y1="1340" x2="540.85" y2="1340" stroke="#A9A9A9" stroke-width="2.1"/>
<line x1="506.1" y1="1063.7" x2="506.1" y2="1283.6" stroke="#A9A9A9" stroke-width="3.3"/>
<line x1="498.85" y1="1063.7" x2="513.35" y2="1063.7" stroke="#A9A9A9" stroke-width="2.1"/>
<line x1="498.85" y1="1283.6" x2="513.35" y2="1283.6" stroke="#A9A9A9" stroke-width="2.1"/>
<line x1="509.1" y1="1086.2" x2="509.1" y2="1285.5" stroke="#A9A9A9" stroke-width="3.3"/>
<line x1="501.85" y1="1086.2" x2="516.35" y2="1086.2" stroke="#A9A9A9" stroke-width="2.1"/>
<line x1="501.85" y1="1285.5" x2="516.35" y2="1285.5" stroke="#A9A9A9" stroke-width="2.1"/>
<line x1="486.1" y1="1178" x2="486.1" y2="1272" stroke="#A9A9A9" stroke-width="3.3"/>
<line x1="478.85" y1="1178" x2="493.35" y2="1178" stroke="#A9A9A9" stroke-width="2.1"/>
<line x1="478.85" y1="1272" x2="493.35" y2="1272" stroke="#A9A9A9" stroke-width="2.1"/>
<line x1="518.5" y1="1140" x2="518.5" y2="1309.7" stroke="#A9A9A9" stroke-width="3.3"/>
<line x1="511.25" y1="1140" x2="525.75" y2="1140" stroke="#A9A9A9" stroke-width="2.1"/>
<line x1="511.25" y1="1309.7" x2="525.75" y2="1309.7" stroke="#A9A9A9" stroke-width="2.1"/>
<line x1="470.3" y1="1216" x2="470.3" y2="1250.1" stroke="#A9A9A9" stroke-width="3.3"/>
<line x1="463.05" y1="1216" x2="477.55" y2="1216" stroke="#A9A9A9" stroke-width="2.1"/>
<line x1="463.05" y1="1250.1" x2="477.55" y2="1250.1" stroke="#A9A9A9" stroke-width="2.1"/>
<line x1="647.5" y1="1127" x2="647.5" y2="1340" stroke="#A9A9A9" stroke-width="3.3"/>
<line x1="640.25" y1="1127" x2="654.75" y2="1127" stroke="#A9A9A9" stroke-width="2.1"/>
<line x1="640.25" y1="1340" x2="654.75" y2="1340" stroke="#A9A9A9" stroke-width="2.1"/>
<circle cx="447" cy="956.5" r="14.5" fill="#A9A9A9" stroke="#000" stroke-width="1.7"/>
<circle cx="533.6" cy="1194" r="14.5" fill="#A9A9A9" stroke="#000" stroke-width="1.7"/>
<circle cx="506.1" cy="1110.2" r="14.5" fill="#A9A9A9" stroke="#000" stroke-width="1.7"/>
<circle cx="509.1" cy="1155.3" r="14.5" fill="#A9A9A9" stroke="#000" stroke-width="1.7"/>
<circle cx="486.1" cy="1193.5" r="14.5" fill="#A9A9A9" stroke="#000" stroke-width="1.7"/>
<circle cx="503" cy="1217" r="14.5" fill="#A9A9A9" stroke="#000" stroke-width="1.7"/>
<circle cx="511" cy="1218" r="14.5" fill="#A9A9A9" stroke="#000" stroke-width="1.7"/>
<circle cx="518.5" cy="1201" r="14.5" fill="#A9A9A9" stroke="#000" stroke-width="1.7"/>
<circle cx="470.3" cy="1232" r="14.5" fill="#A9A9A9" stroke="#000" stroke-width="1.7"/>
<circle cx="511.8" cy="1245.9" r="14.5" fill="#A9A9A9" stroke="#000" stroke-width="1.7"/>
<circle cx="544.2" cy="1241.4" r="14.5" fill="#A9A9A9" stroke="#000" stroke-width="1.7"/>
<circle cx="647.5" cy="1202" r="14.5" fill="#A9A9A9" stroke="#000" stroke-width="1.7"/>
<line x1="497.1" y1="1025" x2="497.1" y2="1047" stroke="#8FBC8F" stroke-width="3.3"/>
<line x1="489.85" y1="1025" x2="504.35" y2="1025" stroke="#8FBC8F" stroke-width="2.1"/>
<line x1="489.85" y1="1047" x2="504.35" y2="1047" stroke="#8FBC8F" stroke-width="2.1"/>
<line x1="549.7" y1="1125" x2="549.7" y2="1160" stroke="#8FBC8F" stroke-width="3.3"/>
<line x1="542.45" y1="1125" x2="556.95" y2="1125" stroke="#8FBC8F" stroke-width="2.1"/>
<line x1="542.45" y1="1160" x2="556.95" y2="1160" stroke="#8FBC8F" stroke-width="2.1"/>
<line x1="567" y1="1190" x2="567" y2="1225" stroke="#8FBC8F" stroke-width="3.3"/>
<line x1="559.75" y1="1190" x2="574.25" y2="1190" stroke="#8FBC8F" stroke-width="2.1"/>
<line x1="559.75" y1="1225" x2="574.25" y2="1225" stroke="#8FBC8F" stroke-width="2.1"/>
<line x1="580.3" y1="1175" x2="580.3" y2="1200" stroke="#8FBC8F" stroke-width="3.3"/>
<line x1="573.05" y1="1175" x2="587.55" y2="1175" stroke="#8FBC8F" stroke-width="2.1"/>
<line x1="573.05" y1="1200" x2="587.55" y2="1200" stroke="#8FBC8F" stroke-width="2.1"/>
<line x1="590" y1="1180" x2="590" y2="1245" stroke="#8FBC8F" stroke-width="3.3"/>
<line x1="582.75" y1="1180" x2="597.25" y2="1180" stroke="#8FBC8F" stroke-width="2.1"/>
<line x1="582.75" y1="1245" x2="597.25" y2="1245" stroke="#8FBC8F" stroke-width="2.1"/>
<line x1="620.6" y1="1220" x2="620.6" y2="1250" stroke="#8FBC8F" stroke-width="3.3"/>
<line x1="613.35" y1="1220" x2="627.85" y2="1220" stroke="#8FBC8F" stroke-width="2.1"/>
<line x1="613.35" y1="1250" x2="627.85" y2="1250" stroke="#8FBC8F" stroke-width="2.1"/>
<line x1="636.6" y1="1190" x2="636.6" y2="1220" stroke="#8FBC8F" stroke-width="3.3"/>
<line x1="629.35" y1="1190" x2="643.85" y2="1190" stroke="#8FBC8F" stroke-width="2.1"/>
<line x1="629.35" y1="1220" x2="643.85" y2="1220" stroke="#8FBC8F" stroke-width="2.1"/>
<line x1="688.8" y1="1197" x2="688.8" y2="1225" stroke="#8FBC8F" stroke-width="3.3"/>
<line x1="681.55" y1="1197" x2="696.05" y2="1197" stroke="#8FBC8F" stroke-width="2.1"/>
<line x1="681.55" y1="1225" x2="696.05" y2="1225" stroke="#8FBC8F" stroke-width="2.1"/>
<line x1="704.8" y1="1205" x2="704.8" y2="1235" stroke="#8FBC8F" stroke-width="3.3"/>
<line x1="697.55" y1="1205" x2="712.05" y2="1205" stroke="#8FBC8F" stroke-width="2.1"/>
<line x1="697.55" y1="1235" x2="712.05" y2="1235" stroke="#8FBC8F" stroke-width="2.1"/>
<line x1="753.7" y1="1208" x2="753.7" y2="1235" stroke="#8FBC8F" stroke-width="3.3"/>
<line x1="746.45" y1="1208" x2="760.95" y2="1208" stroke="#8FBC8F" stroke-width="2.1"/>
<line x1="746.45" y1="1235" x2="760.95" y2="1235" stroke="#8FBC8F" stroke-width="2.1"/>
<line x1="737" y1="1221.6" x2="770" y2="1221.6" stroke="#8FBC8F" stroke-width="3.3"/>
<line x1="737" y1="1214.35" x2="737" y2="1228.85" stroke="#8FBC8F" stroke-width="2.1"/>
<line x1="770" y1="1214.35" x2="770" y2="1228.85" stroke="#8FBC8F" stroke-width="2.1"/>
<polygon points="511.6,1035.7 482.6,1021.2 482.6,1050.2" fill="#8FBC8F" stroke="#000" stroke-width="1.7" stroke-linejoin="miter"/>
<polygon points="564.2,1142.3 535.2,1127.8 535.2,1156.8" fill="#8FBC8F" stroke="#000" stroke-width="1.7" stroke-linejoin="miter"/>
<polygon points="581.5,1207.4 552.5,1192.9 552.5,1221.9" fill="#8FBC8F" stroke="#000" stroke-width="1.7" stroke-linejoin="miter"/>
<polygon points="594.8,1188.4 565.8,1173.9 565.8,1202.9" fill="#8FBC8F" stroke="#000" stroke-width="1.7" stroke-linejoin="miter"/>
<polygon points="604.5,1208.4 575.5,1193.9 575.5,1222.9" fill="#8FBC8F" stroke="#000" stroke-width="1.7" stroke-linejoin="miter"/>
<polygon points="635.1,1234.6 606.1,1220.1 606.1,1249.1" fill="#8FBC8F" stroke="#000" stroke-width="1.7" stroke-linejoin="miter"/>
<polygon points="651.1,1204.9 622.1,1190.4 622.1,1219.4" fill="#8FBC8F" stroke="#000" stroke-width="1.7" stroke-linejoin="miter"/>
<polygon points="659.5,1235 630.5,1220.5 630.5,1249.5" fill="#8FBC8F" stroke="#000" stroke-width="1.7" stroke-linejoin="miter"/>
<polygon points="703.3,1210.7 674.3,1196.2 674.3,1225.2" fill="#8FBC8F" stroke="#000" stroke-width="1.7" stroke-linejoin="miter"/>
<polygon points="719.3,1220.1 690.3,1205.6 690.3,1234.6" fill="#8FBC8F" stroke="#000" stroke-width="1.7" stroke-linejoin="miter"/>
<polygon points="768.2,1221.6 739.2,1207.1 739.2,1236.1" fill="#8FBC8F" stroke="#000" stroke-width="1.7" stroke-linejoin="miter"/>
<line x1="397" y1="756" x2="397" y2="784" stroke="#DAA520" stroke-width="3.3"/>
<line x1="389.75" y1="756" x2="404.25" y2="756" stroke="#DAA520" stroke-width="2.1"/>
<line x1="389.75" y1="784" x2="404.25" y2="784" stroke="#DAA520" stroke-width="2.1"/>
<line x1="396.7" y1="800" x2="396.7" y2="828" stroke="#DAA520" stroke-width="3.3"/>
<line x1="389.45" y1="800" x2="403.95" y2="800" stroke="#DAA520" stroke-width="2.1"/>
<line x1="389.45" y1="828" x2="403.95" y2="828" stroke="#DAA520" stroke-width="2.1"/>
<line x1="421.4" y1="1027" x2="421.4" y2="1042" stroke="#DAA520" stroke-width="3.3"/>
<line x1="414.15" y1="1027" x2="428.65" y2="1027" stroke="#DAA520" stroke-width="2.1"/>
<line x1="414.15" y1="1042" x2="428.65" y2="1042" stroke="#DAA520" stroke-width="2.1"/>
<line x1="310.2" y1="1103" x2="310.2" y2="1118" stroke="#DAA520" stroke-width="3.3"/>
<line x1="302.95" y1="1103" x2="317.45" y2="1103" stroke="#DAA520" stroke-width="2.1"/>
<line x1="302.95" y1="1118" x2="317.45" y2="1118" stroke="#DAA520" stroke-width="2.1"/>
<line x1="379.1" y1="1121" x2="379.1" y2="1142" stroke="#DAA520" stroke-width="3.3"/>
<line x1="371.85" y1="1121" x2="386.35" y2="1121" stroke="#DAA520" stroke-width="2.1"/>
<line x1="371.85" y1="1142" x2="386.35" y2="1142" stroke="#DAA520" stroke-width="2.1"/>
<line x1="418.1" y1="1082" x2="418.1" y2="1106" stroke="#DAA520" stroke-width="3.3"/>
<line x1="410.85" y1="1082" x2="425.35" y2="1082" stroke="#DAA520" stroke-width="2.1"/>
<line x1="410.85" y1="1106" x2="425.35" y2="1106" stroke="#DAA520" stroke-width="2.1"/>
<line x1="415" y1="1128" x2="415" y2="1142" stroke="#DAA520" stroke-width="3.3"/>
<line x1="407.75" y1="1128" x2="422.25" y2="1128" stroke="#DAA520" stroke-width="2.1"/>
<line x1="407.75" y1="1142" x2="422.25" y2="1142" stroke="#DAA520" stroke-width="2.1"/>
<line x1="438.9" y1="1108" x2="438.9" y2="1122" stroke="#DAA520" stroke-width="3.3"/>
<line x1="431.65" y1="1108" x2="446.15" y2="1108" stroke="#DAA520" stroke-width="2.1"/>
<line x1="431.65" y1="1122" x2="446.15" y2="1122" stroke="#DAA520" stroke-width="2.1"/>
<line x1="431.6" y1="1120" x2="431.6" y2="1150" stroke="#DAA520" stroke-width="3.3"/>
<line x1="424.35" y1="1120" x2="438.85" y2="1120" stroke="#DAA520" stroke-width="2.1"/>
<line x1="424.35" y1="1150" x2="438.85" y2="1150" stroke="#DAA520" stroke-width="2.1"/>
<line x1="434.5" y1="1130" x2="434.5" y2="1160" stroke="#DAA520" stroke-width="3.3"/>
<line x1="427.25" y1="1130" x2="441.75" y2="1130" stroke="#DAA520" stroke-width="2.1"/>
<line x1="427.25" y1="1160" x2="441.75" y2="1160" stroke="#DAA520" stroke-width="2.1"/>
<line x1="435.6" y1="1140" x2="435.6" y2="1187.9" stroke="#DAA520" stroke-width="3.3"/>
<line x1="428.35" y1="1140" x2="442.85" y2="1140" stroke="#DAA520" stroke-width="2.1"/>
<line x1="428.35" y1="1187.9" x2="442.85" y2="1187.9" stroke="#DAA520" stroke-width="2.1"/>
<polygon points="397,756.3 393.74,766.32 383.21,766.32 391.73,772.51 388.48,782.53 397,776.34 405.52,782.53 402.27,772.51 410.79,766.32 400.26,766.32" fill="#DAA520" stroke="#000" stroke-width="1.95" stroke-linejoin="bevel"/>
<polygon points="396.7,800.2 393.44,810.22 382.91,810.22 391.43,816.41 388.18,826.43 396.7,820.24 405.22,826.43 401.97,816.41 410.49,810.22 399.96,810.22" fill="#DAA520" stroke="#000" stroke-width="1.95" stroke-linejoin="bevel"/>
<polygon points="421.4,1020 418.14,1030.02 407.61,1030.02 416.13,1036.21 412.88,1046.23 421.4,1040.04 429.92,1046.23 426.67,1036.21 435.19,1030.02 424.66,1030.02" fill="#DAA520" stroke="#000" stroke-width="1.95" stroke-linejoin="bevel"/>
<polygon points="310.2,1096.5 306.94,1106.52 296.41,1106.52 304.93,1112.71 301.68,1122.73 310.2,1116.54 318.72,1122.73 315.47,1112.71 323.99,1106.52 313.46,1106.52" fill="#DAA520" stroke="#000" stroke-width="1.95" stroke-linejoin="bevel"/>
<polygon points="379.1,1116.9 375.84,1126.92 365.31,1126.92 373.83,1133.11 370.58,1143.13 379.1,1136.94 387.62,1143.13 384.37,1133.11 392.89,1126.92 382.36,1126.92" fill="#DAA520" stroke="#000" stroke-width="1.95" stroke-linejoin="bevel"/>
<polygon points="418.1,1079 414.84,1089.02 404.31,1089.02 412.83,1095.21 409.58,1105.23 418.1,1099.04 426.62,1105.23 423.37,1095.21 431.89,1089.02 421.36,1089.02" fill="#DAA520" stroke="#000" stroke-width="1.95" stroke-linejoin="bevel"/>
<polygon points="415,1123 411.74,1133.02 401.21,1133.02 409.73,1139.21 406.48,1149.23 415,1143.04 423.52,1149.23 420.27,1139.21 428.79,1133.02 418.26,1133.02" fill="#DAA520" stroke="#000" stroke-width="1.95" stroke-linejoin="bevel"/>
<polygon points="438.9,1100.5 435.64,1110.52 425.11,1110.52 433.63,1116.71 430.38,1126.73 438.9,1120.54 447.42,1126.73 444.17,1116.71 452.69,1110.52 442.16,1110.52" fill="#DAA520" stroke="#000" stroke-width="1.95" stroke-linejoin="bevel"/>
<line x1="419.3" y1="1131" x2="419.3" y2="1144" stroke="#FF0000" stroke-width="3.3"/>
<line x1="412.05" y1="1131" x2="426.55" y2="1131" stroke="#FF0000" stroke-width="2.1"/>
<line x1="412.05" y1="1144" x2="426.55" y2="1144" stroke="#FF0000" stroke-width="2.1"/>
<polygon points="419.3,1124.7 416.04,1134.72 405.51,1134.72 414.03,1140.91 410.78,1150.93 419.3,1144.74 427.82,1150.93 424.57,1140.91 433.09,1134.72 422.56,1134.72" fill="#FF0000" stroke="none" stroke-linejoin="bevel"/>
<polygon points="419.3,1124.7 416.04,1134.72 405.51,1134.72 414.03,1140.91 410.78,1150.93 419.3,1144.74 427.82,1150.93 424.57,1140.91 433.09,1134.72 422.56,1134.72" fill="url(#dots2)" stroke="none" stroke-linejoin="bevel"/>
<polygon points="419.3,1124.7 416.04,1134.72 405.51,1134.72 414.03,1140.91 410.78,1150.93 419.3,1144.74 427.82,1150.93 424.57,1140.91 433.09,1134.72 422.56,1134.72" fill="none" stroke="#000" stroke-width="2.3" stroke-linejoin="bevel"/>
<polygon points="431.6,1114.3 428.34,1124.32 417.81,1124.32 426.33,1130.51 423.08,1140.53 431.6,1134.34 440.12,1140.53 436.87,1130.51 445.39,1124.32 434.86,1124.32" fill="#DAA520" stroke="#000" stroke-width="1.95" stroke-linejoin="bevel"/>
<polygon points="434.5,1125.5 431.24,1135.52 420.71,1135.52 429.23,1141.71 425.98,1151.73 434.5,1145.54 443.02,1151.73 439.77,1141.71 448.29,1135.52 437.76,1135.52" fill="#DAA520" stroke="#000" stroke-width="1.95" stroke-linejoin="bevel"/>
<polygon points="435.6,1135.8 432.34,1145.82 421.81,1145.82 430.33,1152.01 427.08,1162.03 435.6,1155.84 444.12,1162.03 440.87,1152.01 449.39,1145.82 438.86,1145.82" fill="#DAA520" stroke="#000" stroke-width="1.95" stroke-linejoin="bevel"/>
<line x1="486.7" y1="1040" x2="486.7" y2="1062" stroke="#4682B4" stroke-width="3.3"/>
<line x1="479.45" y1="1040" x2="493.95" y2="1040" stroke="#4682B4" stroke-width="2.1"/>
<line x1="479.45" y1="1062" x2="493.95" y2="1062" stroke="#4682B4" stroke-width="2.1"/>
<line x1="529.8" y1="1120" x2="529.8" y2="1150" stroke="#4682B4" stroke-width="3.3"/>
<line x1="522.55" y1="1120" x2="537.05" y2="1120" stroke="#4682B4" stroke-width="2.1"/>
<line x1="522.55" y1="1150" x2="537.05" y2="1150" stroke="#4682B4" stroke-width="2.1"/>
<line x1="486.7" y1="1142.3" x2="486.7" y2="1178.1" stroke="#4682B4" stroke-width="3.3"/>
<line x1="479.45" y1="1142.3" x2="493.95" y2="1142.3" stroke="#4682B4" stroke-width="2.1"/>
<line x1="479.45" y1="1178.1" x2="493.95" y2="1178.1" stroke="#4682B4" stroke-width="2.1"/>
<line x1="534.2" y1="1180" x2="534.2" y2="1205" stroke="#4682B4" stroke-width="3.3"/>
<line x1="526.95" y1="1180" x2="541.45" y2="1180" stroke="#4682B4" stroke-width="2.1"/>
<line x1="526.95" y1="1205" x2="541.45" y2="1205" stroke="#4682B4" stroke-width="2.1"/>
<line x1="547.2" y1="1185" x2="547.2" y2="1210" stroke="#4682B4" stroke-width="3.3"/>
<line x1="539.95" y1="1185" x2="554.45" y2="1185" stroke="#4682B4" stroke-width="2.1"/>
<line x1="539.95" y1="1210" x2="554.45" y2="1210" stroke="#4682B4" stroke-width="2.1"/>
<line x1="608.3" y1="1200" x2="608.3" y2="1225" stroke="#4682B4" stroke-width="3.3"/>
<line x1="601.05" y1="1200" x2="615.55" y2="1200" stroke="#4682B4" stroke-width="2.1"/>
<line x1="601.05" y1="1225" x2="615.55" y2="1225" stroke="#4682B4" stroke-width="2.1"/>
<line x1="656.9" y1="1220" x2="656.9" y2="1245" stroke="#4682B4" stroke-width="3.3"/>
<line x1="649.65" y1="1220" x2="664.15" y2="1220" stroke="#4682B4" stroke-width="2.1"/>
<line x1="649.65" y1="1245" x2="664.15" y2="1245" stroke="#4682B4" stroke-width="2.1"/>
<line x1="695.4" y1="1240" x2="695.4" y2="1270" stroke="#4682B4" stroke-width="3.3"/>
<line x1="688.15" y1="1240" x2="702.65" y2="1240" stroke="#4682B4" stroke-width="2.1"/>
<line x1="688.15" y1="1270" x2="702.65" y2="1270" stroke="#4682B4" stroke-width="2.1"/>
<line x1="710.6" y1="1222" x2="710.6" y2="1248" stroke="#4682B4" stroke-width="3.3"/>
<line x1="703.35" y1="1222" x2="717.85" y2="1222" stroke="#4682B4" stroke-width="2.1"/>
<line x1="703.35" y1="1248" x2="717.85" y2="1248" stroke="#4682B4" stroke-width="2.1"/>
<line x1="804.2" y1="1268" x2="804.2" y2="1303" stroke="#4682B4" stroke-width="3.3"/>
<line x1="796.95" y1="1268" x2="811.45" y2="1268" stroke="#4682B4" stroke-width="2.1"/>
<line x1="796.95" y1="1303" x2="811.45" y2="1303" stroke="#4682B4" stroke-width="2.1"/>
<rect x="472.2" y="1037" width="29" height="29" fill="#4682B4" stroke="#000" stroke-width="1.7" stroke-linejoin="miter"/>
<rect x="518.7" y="1142.8" width="29" height="29" fill="#4682B4" stroke="#000" stroke-width="1.7" stroke-linejoin="miter"/>
<rect x="517.7" y="1133.5" width="29" height="29" fill="#4682B4" stroke="#000" stroke-width="1.7" stroke-linejoin="miter"/>
<rect x="515.3" y="1119.7" width="29" height="29" fill="#4682B4" stroke="#000" stroke-width="1.7" stroke-linejoin="miter"/>
<rect x="472.2" y="1144.8" width="29" height="29" fill="#4682B4" stroke="#000" stroke-width="1.7" stroke-linejoin="miter"/>
<rect x="519.7" y="1178.9" width="29" height="29" fill="#4682B4" stroke="#000" stroke-width="1.7" stroke-linejoin="miter"/>
<rect x="532.7" y="1181.9" width="29" height="29" fill="#4682B4" stroke="#000" stroke-width="1.7" stroke-linejoin="miter"/>
<rect x="596.7" y="1215.8" width="29" height="29" fill="#4682B4" stroke="#000" stroke-width="1.7" stroke-linejoin="miter"/>
<rect x="593.8" y="1199.1" width="29" height="29" fill="#4682B4" stroke="#000" stroke-width="1.7" stroke-linejoin="miter"/>
<rect x="642.4" y="1218.7" width="29" height="29" fill="#4682B4" stroke="#000" stroke-width="1.7" stroke-linejoin="miter"/>
<rect x="680.9" y="1240.4" width="29" height="29" fill="#4682B4" stroke="#000" stroke-width="1.7" stroke-linejoin="miter"/>
<rect x="696.1" y="1220.9" width="29" height="29" fill="#4682B4" stroke="#000" stroke-width="1.7" stroke-linejoin="miter"/>
<rect x="789.7" y="1270.9" width="29" height="29" fill="#4682B4" stroke="#000" stroke-width="1.7" stroke-linejoin="miter"/>
<circle cx="368.6" cy="1249.2" r="14.5" fill="#FF0000" stroke="none"/>
<circle cx="368.6" cy="1249.2" r="14.5" fill="url(#diag)" stroke="none"/>
<circle cx="368.6" cy="1249.2" r="14.5" fill="none" stroke="#000" stroke-width="1.7"/>
<line x1="494.7" y1="1233.1" x2="494.7" y2="1301.7" stroke="#FF0000" stroke-width="3.3"/>
<line x1="487.45" y1="1233.1" x2="501.95" y2="1233.1" stroke="#FF0000" stroke-width="2.1"/>
<line x1="487.45" y1="1301.7" x2="501.95" y2="1301.7" stroke="#FF0000" stroke-width="2.1"/>
<circle cx="494.7" cy="1264" r="14.5" fill="#FF0000" stroke="none"/>
<circle cx="494.7" cy="1264" r="14.5" fill="url(#dots)" stroke="none"/>
<circle cx="494.7" cy="1264" r="14.5" fill="none" stroke="#000" stroke-width="1.7"/>
<line x1="542.2" y1="1226.3" x2="542.2" y2="1256.5" stroke="#FF0000" stroke-width="3.3"/>
<line x1="534.95" y1="1226.3" x2="549.45" y2="1226.3" stroke="#FF0000" stroke-width="2.1"/>
<line x1="534.95" y1="1256.5" x2="549.45" y2="1256.5" stroke="#FF0000" stroke-width="2.1"/>
<polygon points="556.7,1241.4 527.7,1226.9 527.7,1255.9" fill="#FF0000" stroke="none" stroke-linejoin="miter"/>
<polygon points="556.7,1241.4 527.7,1226.9 527.7,1255.9" fill="url(#dots)" stroke="none" stroke-linejoin="miter"/>
<polygon points="556.7,1241.4 527.7,1226.9 527.7,1255.9" fill="none" stroke="#000" stroke-width="1.7" stroke-linejoin="miter"/>
<line x1="620.6" y1="1185" x2="620.6" y2="1205" stroke="#FF0000" stroke-width="3.3"/>
<line x1="613.35" y1="1185" x2="627.85" y2="1185" stroke="#FF0000" stroke-width="2.1"/>
<line x1="613.35" y1="1205" x2="627.85" y2="1205" stroke="#FF0000" stroke-width="2.1"/>
<rect x="606.1" y="1180.2" width="29" height="29" fill="#FF0000" stroke="none" stroke-linejoin="miter"/>
<rect x="606.1" y="1180.2" width="29" height="29" fill="url(#dots)" stroke="none" stroke-linejoin="miter"/>
<rect x="606.1" y="1180.2" width="29" height="29" fill="none" stroke="#000" stroke-width="1.7" stroke-linejoin="miter"/>
</g>
<rect x="178.4" y="708.6" width="650.6" height="620" fill="none" stroke="#000" stroke-width="3.8" stroke-linejoin="miter"/>
<g font-size="47.5"><text x="383.7" y="1376.9" text-anchor="middle">10</text>
<text x="597.87" y="1376.9" text-anchor="middle">100</text>
<text x="812.04" y="1376.9" text-anchor="middle">1000</text>
<text x="166.2" y="1311.53" text-anchor="end">10</text>
<text x="166.2" y="946.61" text-anchor="end">100</text></g>
<path d="M1229.5 1328.6L1229.5 1314.6 M1229.5 708.6L1229.5 722.6 M1443.67 1328.6L1443.67 1314.6 M1443.67 708.6L1443.67 722.6 M1657.84 1328.6L1657.84 1314.6 M1657.84 708.6L1657.84 722.6 M1079.81 1328.6L1079.81 1321.6 M1079.81 708.6L1079.81 715.6 M1117.52 1328.6L1117.52 1321.6 M1117.52 708.6L1117.52 715.6 M1144.28 1328.6L1144.28 1321.6 M1144.28 708.6L1144.28 715.6 M1165.03 1328.6L1165.03 1321.6 M1165.03 708.6L1165.03 715.6 M1181.99 1328.6L1181.99 1321.6 M1181.99 708.6L1181.99 715.6 M1196.33 1328.6L1196.33 1321.6 M1196.33 708.6L1196.33 715.6 M1208.75 1328.6L1208.75 1321.6 M1208.75 708.6L1208.75 715.6 M1219.7 1328.6L1219.7 1321.6 M1219.7 708.6L1219.7 715.6 M1293.98 1328.6L1293.98 1321.6 M1293.98 708.6L1293.98 715.6 M1331.69 1328.6L1331.69 1321.6 M1331.69 708.6L1331.69 715.6 M1358.45 1328.6L1358.45 1321.6 M1358.45 708.6L1358.45 715.6 M1379.2 1328.6L1379.2 1321.6 M1379.2 708.6L1379.2 715.6 M1396.16 1328.6L1396.16 1321.6 M1396.16 708.6L1396.16 715.6 M1410.5 1328.6L1410.5 1321.6 M1410.5 708.6L1410.5 715.6 M1422.92 1328.6L1422.92 1321.6 M1422.92 708.6L1422.92 715.6 M1433.87 1328.6L1433.87 1321.6 M1433.87 708.6L1433.87 715.6 M1508.14 1328.6L1508.14 1321.6 M1508.14 708.6L1508.14 715.6 M1545.86 1328.6L1545.86 1321.6 M1545.86 708.6L1545.86 715.6 M1572.62 1328.6L1572.62 1321.6 M1572.62 708.6L1572.62 715.6 M1593.37 1328.6L1593.37 1321.6 M1593.37 708.6L1593.37 715.6 M1610.33 1328.6L1610.33 1321.6 M1610.33 708.6L1610.33 715.6 M1624.67 1328.6L1624.67 1321.6 M1624.67 708.6L1624.67 715.6 M1637.09 1328.6L1637.09 1321.6 M1637.09 708.6L1637.09 715.6 M1648.04 1328.6L1648.04 1321.6 M1648.04 708.6L1648.04 715.6 M1024.2 1293.23L1038.2 1293.23 M1674.8 1293.23L1660.8 1293.23 M1024.2 928.31L1038.2 928.31 M1674.8 928.31L1660.8 928.31 M1024.2 1309.93L1031.2 1309.93 M1674.8 1309.93L1667.8 1309.93 M1024.2 1183.38L1031.2 1183.38 M1674.8 1183.38L1667.8 1183.38 M1024.2 1119.12L1031.2 1119.12 M1674.8 1119.12L1667.8 1119.12 M1024.2 1073.53L1031.2 1073.53 M1674.8 1073.53L1667.8 1073.53 M1024.2 1038.16L1031.2 1038.16 M1674.8 1038.16L1667.8 1038.16 M1024.2 1009.27L1031.2 1009.27 M1674.8 1009.27L1667.8 1009.27 M1024.2 984.84L1031.2 984.84 M1674.8 984.84L1667.8 984.84 M1024.2 963.67L1031.2 963.67 M1674.8 963.67L1667.8 963.67 M1024.2 945.01L1031.2 945.01 M1674.8 945.01L1667.8 945.01 M1024.2 818.45L1031.2 818.45 M1674.8 818.45L1667.8 818.45 M1024.2 754.19L1031.2 754.19 M1674.8 754.19L1667.8 754.19 M1024.2 708.6L1031.2 708.6 M1674.8 708.6L1667.8 708.6" stroke="#000" stroke-width="3.7" fill="none"/>
<g clip-path="url(#clipD)">
<polygon points="1066.2,1240.5 1039.2,1227 1039.2,1254" fill="#000" stroke="none" stroke-linejoin="miter"/>
<circle cx="1215.8" cy="1249.3" r="14.5" fill="#FF0000" stroke="none"/>
<circle cx="1215.8" cy="1249.3" r="14.5" fill="url(#diag)" stroke="none"/>
<circle cx="1215.8" cy="1249.3" r="14.5" fill="none" stroke="#000" stroke-width="1.7"/>
<circle cx="1200.5" cy="1249.3" r="13.25" fill="#000" stroke="none"/>
<circle cx="1218" cy="1249.3" r="11.6" fill="none" stroke="#A9A9A9" stroke-width="1.2"/>
<line x1="1267.1" y1="1131" x2="1267.1" y2="1141" stroke="#FF0000" stroke-width="3.3"/>
<line x1="1259.85" y1="1131" x2="1274.35" y2="1131" stroke="#FF0000" stroke-width="2.1"/>
<line x1="1259.85" y1="1141" x2="1274.35" y2="1141" stroke="#FF0000" stroke-width="2.1"/>
<polygon points="1267.1,1121.5 1263.84,1131.52 1253.31,1131.52 1261.83,1137.71 1258.58,1147.73 1267.1,1141.54 1275.62,1147.73 1272.37,1137.71 1280.89,1131.52 1270.36,1131.52" fill="#FF0000" stroke="#000" stroke-width="1.95" stroke-linejoin="bevel"/>
<rect x="1281.5" y="1181.6" width="27" height="27" fill="#000" stroke="none" stroke-linejoin="miter"/>
<line x1="1340.8" y1="1232.5" x2="1340.8" y2="1301.8" stroke="#FF0000" stroke-width="3.3"/>
<line x1="1333.55" y1="1232.5" x2="1348.05" y2="1232.5" stroke="#FF0000" stroke-width="2.1"/>
<line x1="1333.55" y1="1301.8" x2="1348.05" y2="1301.8" stroke="#FF0000" stroke-width="2.1"/>
<circle cx="1340.8" cy="1263.6" r="14.5" fill="#FF0000" stroke="#000" stroke-width="1.7"/>
<line x1="1388.9" y1="1225.5" x2="1388.9" y2="1256.1" stroke="#FF0000" stroke-width="3.3"/>
<line x1="1381.65" y1="1225.5" x2="1396.15" y2="1225.5" stroke="#FF0000" stroke-width="2.1"/>
<line x1="1381.65" y1="1256.1" x2="1396.15" y2="1256.1" stroke="#FF0000" stroke-width="2.1"/>
<polygon points="1403.7,1240.5 1374.7,1226 1374.7,1255" fill="#FF0000" stroke="#000" stroke-width="1.7" stroke-linejoin="miter"/>
<rect x="1452.6" y="1180.6" width="29" height="29" fill="#FF0000" stroke="#000" stroke-width="1.7" stroke-linejoin="miter"/>
</g>
<rect x="1024.2" y="708.6" width="650.6" height="620" fill="none" stroke="#000" stroke-width="3.8" stroke-linejoin="miter"/>
<g font-size="47.5"><text x="1229.5" y="1376.9" text-anchor="middle">10</text>
<text x="1443.67" y="1376.9" text-anchor="middle">100</text>
<text x="1657.84" y="1376.9" text-anchor="middle">1000</text>
<text x="1012" y="1311.53" text-anchor="end">10</text>
<text x="1012" y="946.61" text-anchor="end">100</text></g>
<rect x="193.1" y="13.9" width="84.6" height="98.3" rx="13" ry="13" fill="#F0F0F0" stroke="#000" stroke-width="8"/><text x="235.6" y="83.4" text-anchor="middle" font-size="74.5" font-weight="bold">A</text>
<rect x="1038.9" y="13.9" width="83.6" height="98.3" rx="13" ry="13" fill="#F0F0F0" stroke="#000" stroke-width="8"/><text x="1080.7" y="83.2" text-anchor="middle" font-size="74.5" font-weight="bold">B</text>
<rect x="193.4" y="719.9" width="81.3" height="98.7" rx="13" ry="13" fill="#F0F0F0" stroke="#000" stroke-width="8"/><text x="234" y="789.5" text-anchor="middle" font-size="74.5" font-weight="bold">C</text>
<rect x="1038.9" y="720.2" width="88.3" height="98.1" rx="13" ry="13" fill="#F0F0F0" stroke="#000" stroke-width="8"/><text x="1083" y="789.5" text-anchor="middle" font-size="74.5" font-weight="bold">D</text>
<rect x="541.25" y="14.15" width="257.5" height="179.9" rx="6" ry="6" fill="#fff" stroke="#000" stroke-width="3.3"/>
<line x1="591.9" y1="25.5" x2="591.9" y2="61.9" stroke="#DAA520" stroke-width="3.3"/>
<line x1="584.65" y1="25.5" x2="599.15" y2="25.5" stroke="#DAA520" stroke-width="2.1"/>
<line x1="584.65" y1="61.9" x2="599.15" y2="61.9" stroke="#DAA520" stroke-width="2.1"/>
<line x1="573.7" y1="43.7" x2="610.1" y2="43.7" stroke="#DAA520" stroke-width="3.3"/>
<line x1="573.7" y1="36.45" x2="573.7" y2="50.95" stroke="#DAA520" stroke-width="2.1"/>
<line x1="610.1" y1="36.45" x2="610.1" y2="50.95" stroke="#DAA520" stroke-width="2.1"/>
<polygon points="591.9,29.2 588.64,39.22 578.11,39.22 586.63,45.41 583.38,55.43 591.9,49.24 600.42,55.43 597.17,45.41 605.69,39.22 595.16,39.22" fill="#DAA520" stroke="#000" stroke-width="1.95" stroke-linejoin="bevel"/>
<text x="657.9" y="56.5" font-size="36.6">ACE</text>
<line x1="591.9" y1="64.05" x2="591.9" y2="100.45" stroke="#8FBC8F" stroke-width="3.3"/>
<line x1="584.65" y1="64.05" x2="599.15" y2="64.05" stroke="#8FBC8F" stroke-width="2.1"/>
<line x1="584.65" y1="100.45" x2="599.15" y2="100.45" stroke="#8FBC8F" stroke-width="2.1"/>
<line x1="573.7" y1="82.25" x2="610.1" y2="82.25" stroke="#8FBC8F" stroke-width="3.3"/>
<line x1="573.7" y1="75" x2="573.7" y2="89.5" stroke="#8FBC8F" stroke-width="2.1"/>
<line x1="610.1" y1="75" x2="610.1" y2="89.5" stroke="#8FBC8F" stroke-width="2.1"/>
<polygon points="606.4,82.25 577.4,67.75 577.4,96.75" fill="#8FBC8F" stroke="#000" stroke-width="1.7" stroke-linejoin="miter"/>
<text x="657.9" y="95.05" font-size="36.6">MACE</text>
<line x1="591.9" y1="102.6" x2="591.9" y2="139" stroke="#A9A9A9" stroke-width="3.3"/>
<line x1="584.65" y1="102.6" x2="599.15" y2="102.6" stroke="#A9A9A9" stroke-width="2.1"/>
<line x1="584.65" y1="139" x2="599.15" y2="139" stroke="#A9A9A9" stroke-width="2.1"/>
<line x1="573.7" y1="120.8" x2="610.1" y2="120.8" stroke="#A9A9A9" stroke-width="3.3"/>
<line x1="573.7" y1="113.55" x2="573.7" y2="128.05" stroke="#A9A9A9" stroke-width="2.1"/>
<line x1="610.1" y1="113.55" x2="610.1" y2="128.05" stroke="#A9A9A9" stroke-width="2.1"/>
<circle cx="591.9" cy="120.8" r="14.5" fill="#A9A9A9" stroke="#000" stroke-width="1.7"/>
<text x="657.9" y="133.6" font-size="36.6">REANN</text>
<line x1="591.9" y1="141.15" x2="591.9" y2="177.55" stroke="#4682B4" stroke-width="3.3"/>
<line x1="584.65" y1="141.15" x2="599.15" y2="141.15" stroke="#4682B4" stroke-width="2.1"/>
<line x1="584.65" y1="177.55" x2="599.15" y2="177.55" stroke="#4682B4" stroke-width="2.1"/>
<line x1="573.7" y1="159.35" x2="610.1" y2="159.35" stroke="#4682B4" stroke-width="3.3"/>
<line x1="573.7" y1="152.1" x2="573.7" y2="166.6" stroke="#4682B4" stroke-width="2.1"/>
<line x1="610.1" y1="152.1" x2="610.1" y2="166.6" stroke="#4682B4" stroke-width="2.1"/>
<rect x="577.4" y="144.85" width="29" height="29" fill="#4682B4" stroke="#000" stroke-width="1.7" stroke-linejoin="miter"/>
<text x="657.9" y="172.15" font-size="36.6">PaiNN</text>
<rect x="1412.05" y="7.75" width="256.7" height="179.3" rx="6" ry="6" fill="#fff" stroke="#000" stroke-width="3.3"/>
<line x1="1462.7" y1="19.1" x2="1462.7" y2="55.5" stroke="#DAA520" stroke-width="3.3"/>
<line x1="1455.45" y1="19.1" x2="1469.95" y2="19.1" stroke="#DAA520" stroke-width="2.1"/>
<line x1="1455.45" y1="55.5" x2="1469.95" y2="55.5" stroke="#DAA520" stroke-width="2.1"/>
<line x1="1444.5" y1="37.3" x2="1480.9" y2="37.3" stroke="#DAA520" stroke-width="3.3"/>
<line x1="1444.5" y1="30.05" x2="1444.5" y2="44.55" stroke="#DAA520" stroke-width="2.1"/>
<line x1="1480.9" y1="30.05" x2="1480.9" y2="44.55" stroke="#DAA520" stroke-width="2.1"/>
<polygon points="1462.7,22.8 1459.44,32.82 1448.91,32.82 1457.43,39.01 1454.18,49.03 1462.7,42.84 1471.22,49.03 1467.97,39.01 1476.49,32.82 1465.96,32.82" fill="#DAA520" stroke="#000" stroke-width="1.95" stroke-linejoin="bevel"/>
<text x="1528.7" y="50.1" font-size="36.6">ACE</text>
<line x1="1462.7" y1="57.65" x2="1462.7" y2="94.05" stroke="#8FBC8F" stroke-width="3.3"/>
<line x1="1455.45" y1="57.65" x2="1469.95" y2="57.65" stroke="#8FBC8F" stroke-width="2.1"/>
<line x1="1455.45" y1="94.05" x2="1469.95" y2="94.05" stroke="#8FBC8F" stroke-width="2.1"/>
<line x1="1444.5" y1="75.85" x2="1480.9" y2="75.85" stroke="#8FBC8F" stroke-width="3.3"/>
<line x1="1444.5" y1="68.6" x2="1444.5" y2="83.1" stroke="#8FBC8F" stroke-width="2.1"/>
<line x1="1480.9" y1="68.6" x2="1480.9" y2="83.1" stroke="#8FBC8F" stroke-width="2.1"/>
<polygon points="1477.2,75.85 1448.2,61.35 1448.2,90.35" fill="#8FBC8F" stroke="#000" stroke-width="1.7" stroke-linejoin="miter"/>
<text x="1528.7" y="88.65" font-size="36.6">MACE</text>
<line x1="1462.7" y1="96.2" x2="1462.7" y2="132.6" stroke="#A9A9A9" stroke-width="3.3"/>
<line x1="1455.45" y1="96.2" x2="1469.95" y2="96.2" stroke="#A9A9A9" stroke-width="2.1"/>
<line x1="1455.45" y1="132.6" x2="1469.95" y2="132.6" stroke="#A9A9A9" stroke-width="2.1"/>
<line x1="1444.5" y1="114.4" x2="1480.9" y2="114.4" stroke="#A9A9A9" stroke-width="3.3"/>
<line x1="1444.5" y1="107.15" x2="1444.5" y2="121.65" stroke="#A9A9A9" stroke-width="2.1"/>
<line x1="1480.9" y1="107.15" x2="1480.9" y2="121.65" stroke="#A9A9A9" stroke-width="2.1"/>
<circle cx="1462.7" cy="114.4" r="14.5" fill="#A9A9A9" stroke="#000" stroke-width="1.7"/>
<text x="1528.7" y="127.2" font-size="36.6">REANN</text>
<line x1="1462.7" y1="134.75" x2="1462.7" y2="171.15" stroke="#4682B4" stroke-width="3.3"/>
<line x1="1455.45" y1="134.75" x2="1469.95" y2="134.75" stroke="#4682B4" stroke-width="2.1"/>
<line x1="1455.45" y1="171.15" x2="1469.95" y2="171.15" stroke="#4682B4" stroke-width="2.1"/>
<line x1="1444.5" y1="152.95" x2="1480.9" y2="152.95" stroke="#4682B4" stroke-width="3.3"/>
<line x1="1444.5" y1="145.7" x2="1444.5" y2="160.2" stroke="#4682B4" stroke-width="2.1"/>
<line x1="1480.9" y1="145.7" x2="1480.9" y2="160.2" stroke="#4682B4" stroke-width="2.1"/>
<rect x="1448.2" y="138.45" width="29" height="29" fill="#4682B4" stroke="#000" stroke-width="1.7" stroke-linejoin="miter"/>
<text x="1528.7" y="165.75" font-size="36.6">PaiNN</text>
<rect x="541.25" y="721.65" width="257.5" height="179.3" rx="6" ry="6" fill="#fff" stroke="#000" stroke-width="3.3"/>
<line x1="591.9" y1="733" x2="591.9" y2="769.4" stroke="#DAA520" stroke-width="3.3"/>
<line x1="584.65" y1="733" x2="599.15" y2="733" stroke="#DAA520" stroke-width="2.1"/>
<line x1="584.65" y1="769.4" x2="599.15" y2="769.4" stroke="#DAA520" stroke-width="2.1"/>
<line x1="573.7" y1="751.2" x2="610.1" y2="751.2" stroke="#DAA520" stroke-width="3.3"/>
<line x1="573.7" y1="743.95" x2="573.7" y2="758.45" stroke="#DAA520" stroke-width="2.1"/>
<line x1="610.1" y1="743.95" x2="610.1" y2="758.45" stroke="#DAA520" stroke-width="2.1"/>
<polygon points="591.9,736.7 588.64,746.72 578.11,746.72 586.63,752.91 583.38,762.93 591.9,756.74 600.42,762.93 597.17,752.91 605.69,746.72 595.16,746.72" fill="#DAA520" stroke="#000" stroke-width="1.95" stroke-linejoin="bevel"/>
<text x="657.9" y="764" font-size="36.6">ACE</text>
<line x1="591.9" y1="771.55" x2="591.9" y2="807.95" stroke="#8FBC8F" stroke-width="3.3"/>
<line x1="584.65" y1="771.55" x2="599.15" y2="771.55" stroke="#8FBC8F" stroke-width="2.1"/>
<line x1="584.65" y1="807.95" x2="599.15" y2="807.95" stroke="#8FBC8F" stroke-width="2.1"/>
<line x1="573.7" y1="789.75" x2="610.1" y2="789.75" stroke="#8FBC8F" stroke-width="3.3"/>
<line x1="573.7" y1="782.5" x2="573.7" y2="797" stroke="#8FBC8F" stroke-width="2.1"/>
<line x1="610.1" y1="782.5" x2="610.1" y2="797" stroke="#8FBC8F" stroke-width="2.1"/>
<polygon points="606.4,789.75 577.4,775.25 577.4,804.25" fill="#8FBC8F" stroke="#000" stroke-width="1.7" stroke-linejoin="miter"/>
<text x="657.9" y="802.55" font-size="36.6">MACE</text>
<line x1="591.9" y1="810.1" x2="591.9" y2="846.5" stroke="#A9A9A9" stroke-width="3.3"/>
<line x1="584.65" y1="810.1" x2="599.15" y2="810.1" stroke="#A9A9A9" stroke-width="2.1"/>
<line x1="584.65" y1="846.5" x2="599.15" y2="846.5" stroke="#A9A9A9" stroke-width="2.1"/>
<line x1="573.7" y1="828.3" x2="610.1" y2="828.3" stroke="#A9A9A9" stroke-width="3.3"/>
<line x1="573.7" y1="821.05" x2="573.7" y2="835.55" stroke="#A9A9A9" stroke-width="2.1"/>
<line x1="610.1" y1="821.05" x2="610.1" y2="835.55" stroke="#A9A9A9" stroke-width="2.1"/>
<circle cx="591.9" cy="828.3" r="14.5" fill="#A9A9A9" stroke="#000" stroke-width="1.7"/>
<text x="657.9" y="841.1" font-size="36.6">REANN</text>
<line x1="591.9" y1="848.65" x2="591.9" y2="885.05" stroke="#4682B4" stroke-width="3.3"/>
<line x1="584.65" y1="848.65" x2="599.15" y2="848.65" stroke="#4682B4" stroke-width="2.1"/>
<line x1="584.65" y1="885.05" x2="599.15" y2="885.05" stroke="#4682B4" stroke-width="2.1"/>
<line x1="573.7" y1="866.85" x2="610.1" y2="866.85" stroke="#4682B4" stroke-width="3.3"/>
<line x1="573.7" y1="859.6" x2="573.7" y2="874.1" stroke="#4682B4" stroke-width="2.1"/>
<line x1="610.1" y1="859.6" x2="610.1" y2="874.1" stroke="#4682B4" stroke-width="2.1"/>
<rect x="577.4" y="852.35" width="29" height="29" fill="#4682B4" stroke="#000" stroke-width="1.7" stroke-linejoin="miter"/>
<text x="657.9" y="879.65" font-size="36.6">PaiNN</text>
<rect x="1271.65" y="715.35" width="397.5" height="294.6" rx="6" ry="6" fill="#fff" stroke="#000" stroke-width="3.3"/>
<polygon points="1335.8,747 1308.8,733.5 1308.8,760.5" fill="#000" stroke="none" stroke-linejoin="miter"/>
<text x="1386" y="756" font-size="36.6">MACE-JAX-GPU</text>
<circle cx="1322.3" cy="785.55" r="13.5" fill="#000" stroke="none"/>
<text x="1386" y="794.55" font-size="36.6">REANN-GPU</text>
<rect x="1308.8" y="810.6" width="27" height="27" fill="#000" stroke="none" stroke-linejoin="miter"/>
<text x="1386" y="833.1" font-size="36.6">PaiNN-GPU</text>
<line x1="1322.3" y1="841.75" x2="1322.3" y2="878.15" stroke="#FF0000" stroke-width="3.3"/>
<line x1="1315.05" y1="841.75" x2="1329.55" y2="841.75" stroke="#FF0000" stroke-width="2.1"/>
<line x1="1315.05" y1="878.15" x2="1329.55" y2="878.15" stroke="#FF0000" stroke-width="2.1"/>
<line x1="1304.1" y1="859.95" x2="1340.5" y2="859.95" stroke="#FF0000" stroke-width="3.3"/>
<line x1="1304.1" y1="852.7" x2="1304.1" y2="867.2" stroke="#FF0000" stroke-width="2.1"/>
<line x1="1340.5" y1="852.7" x2="1340.5" y2="867.2" stroke="#FF0000" stroke-width="2.1"/>
<polygon points="1322.3,845.45 1319.04,855.47 1308.51,855.47 1317.03,861.66 1313.78,871.68 1322.3,865.49 1330.82,871.68 1327.57,861.66 1336.09,855.47 1325.56,855.47" fill="#FF0000" stroke="#000" stroke-width="1.95" stroke-linejoin="bevel"/>
<text x="1386" y="871.65" font-size="36.6">ACE-CPU</text>
<line x1="1322.3" y1="880.3" x2="1322.3" y2="916.7" stroke="#FF0000" stroke-width="3.3"/>
<line x1="1315.05" y1="880.3" x2="1329.55" y2="880.3" stroke="#FF0000" stroke-width="2.1"/>
<line x1="1315.05" y1="916.7" x2="1329.55" y2="916.7" stroke="#FF0000" stroke-width="2.1"/>
<line x1="1304.1" y1="898.5" x2="1340.5" y2="898.5" stroke="#FF0000" stroke-width="3.3"/>
<line x1="1304.1" y1="891.25" x2="1304.1" y2="905.75" stroke="#FF0000" stroke-width="2.1"/>
<line x1="1340.5" y1="891.25" x2="1340.5" y2="905.75" stroke="#FF0000" stroke-width="2.1"/>
<polygon points="1336.8,898.5 1307.8,884 1307.8,913" fill="#FF0000" stroke="#000" stroke-width="1.7" stroke-linejoin="miter"/>
<text x="1386" y="910.2" font-size="36.6">MACE-CPU</text>
<line x1="1322.3" y1="918.85" x2="1322.3" y2="955.25" stroke="#FF0000" stroke-width="3.3"/>
<line x1="1315.05" y1="918.85" x2="1329.55" y2="918.85" stroke="#FF0000" stroke-width="2.1"/>
<line x1="1315.05" y1="955.25" x2="1329.55" y2="955.25" stroke="#FF0000" stroke-width="2.1"/>
<line x1="1304.1" y1="937.05" x2="1340.5" y2="937.05" stroke="#FF0000" stroke-width="3.3"/>
<line x1="1304.1" y1="929.8" x2="1304.1" y2="944.3" stroke="#FF0000" stroke-width="2.1"/>
<line x1="1340.5" y1="929.8" x2="1340.5" y2="944.3" stroke="#FF0000" stroke-width="2.1"/>
<circle cx="1322.3" cy="937.05" r="14.5" fill="#FF0000" stroke="#000" stroke-width="1.7"/>
<text x="1386" y="948.75" font-size="36.6">REANN-CPU</text>
<line x1="1322.3" y1="957.4" x2="1322.3" y2="993.8" stroke="#FF0000" stroke-width="3.3"/>
<line x1="1315.05" y1="957.4" x2="1329.55" y2="957.4" stroke="#FF0000" stroke-width="2.1"/>
<line x1="1315.05" y1="993.8" x2="1329.55" y2="993.8" stroke="#FF0000" stroke-width="2.1"/>
<line x1="1304.1" y1="975.6" x2="1340.5" y2="975.6" stroke="#FF0000" stroke-width="3.3"/>
<line x1="1304.1" y1="968.35" x2="1304.1" y2="982.85" stroke="#FF0000" stroke-width="2.1"/>
<line x1="1340.5" y1="968.35" x2="1340.5" y2="982.85" stroke="#FF0000" stroke-width="2.1"/>
<rect x="1307.8" y="961.1" width="29" height="29" fill="#FF0000" stroke="#000" stroke-width="1.7" stroke-linejoin="miter"/>
<text x="1386" y="987.3" font-size="36.6">PaiNN-CPU</text>
<text transform="translate(50.4 311.95) rotate(-90)" text-anchor="middle" font-size="54.4">Energy RMSE / meV</text>
<text transform="translate(896.2 311.95) rotate(-90)" text-anchor="middle" font-size="54.4">H Force RMSE / meV/Å</text>
<text transform="translate(50.4 1018.6) rotate(-90)" text-anchor="middle" font-size="54.4">Force RMSE / meV/Å</text>
<text transform="translate(896.2 1018.6) rotate(-90)" text-anchor="middle" font-size="54.4">Force RMSE / meV/Å</text>
<text x="503.7" y="1442.1" text-anchor="middle" font-size="54.4">Evaluation time / ms</text>
<text x="1349.5" y="1442.1" text-anchor="middle" font-size="54.4">Evaluation time / ms</text>
</svg>
</body></html>
